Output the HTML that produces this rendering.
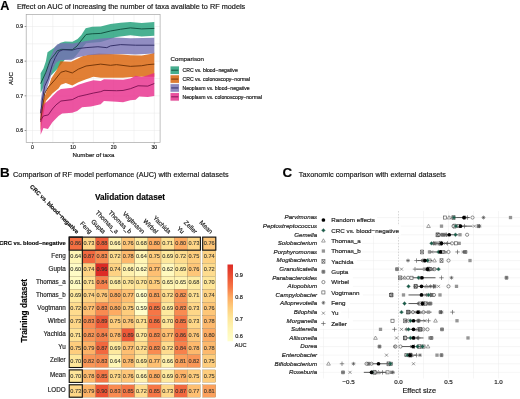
<!DOCTYPE html>
<html><head><meta charset="utf-8"><title>Figure</title>
<style>html,body{margin:0;padding:0;background:#fff}svg{display:block}</style></head>
<body>
<svg width="520" height="399" viewBox="0 0 520 399" font-family='"Liberation Sans", Arial, Helvetica, sans-serif'>
<rect width="520" height="399" fill="#fff"/>
<style>text{stroke:#222;stroke-width:0.18px;stroke-linejoin:round}</style>
<text transform="translate(0.3,9.85) scale(0.93,1)" font-size="13.7" font-weight="bold" fill="#000">A</text>
<text x="17.00" y="9.00" font-size="7.3" text-anchor="start" font-weight="normal" font-style="normal" fill="#111" >Effect on AUC of increasing the number of taxa available to RF models</text>
<g stroke="#e9e9e9" stroke-width="0.5">
<line x1="26.2" x2="160.1" y1="130.50" y2="130.50"/>
<line x1="26.2" x2="160.1" y1="113.16" y2="113.16"/>
<line x1="26.2" x2="160.1" y1="95.83" y2="95.83"/>
<line x1="26.2" x2="160.1" y1="78.50" y2="78.50"/>
<line x1="26.2" x2="160.1" y1="61.16" y2="61.16"/>
<line x1="26.2" x2="160.1" y1="43.83" y2="43.83"/>
<line x1="26.2" x2="160.1" y1="26.49" y2="26.49"/>
<line y1="14.6" y2="142.5" x1="32.50" x2="32.50"/>
<line y1="14.6" y2="142.5" x1="52.80" x2="52.80"/>
<line y1="14.6" y2="142.5" x1="73.10" x2="73.10"/>
<line y1="14.6" y2="142.5" x1="93.40" x2="93.40"/>
<line y1="14.6" y2="142.5" x1="113.70" x2="113.70"/>
<line y1="14.6" y2="142.5" x1="134.00" x2="134.00"/>
<line y1="14.6" y2="142.5" x1="154.30" x2="154.30"/>
</g>
<polygon points="40.62,73.29 43.46,68.44 45.90,61.16 47.52,52.15 52.39,49.03 56.25,46.25 60.51,42.78 64.98,41.40 72.49,41.74 77.57,38.97 81.22,35.16 85.69,28.22 92.18,26.84 100.71,26.49 110.45,24.06 120.60,22.68 130.35,22.12 141.71,23.02 154.30,22.12 154.30,35.85 141.71,36.54 130.35,35.16 116.54,37.06 110.45,38.97 100.71,42.09 86.09,43.13 81.22,49.03 77.16,54.23 73.10,58.39 64.98,59.43 56.86,69.48 48.74,77.80 44.68,84.74 40.62,93.06" fill="#1B9E77" fill-opacity="0.8"/>
<polygon points="40.62,109.70 43.46,99.30 49.15,84.74 51.18,78.50 56.86,69.83 58.89,64.97 60.51,61.16 64.98,61.51 71.07,61.85 77.57,58.73 82.44,56.31 87.31,54.92 92.18,54.23 99.08,53.53 110.45,53.88 123.04,54.57 130.35,55.27 141.71,55.44 150.24,53.88 154.30,52.84 154.30,76.76 135.62,76.76 123.04,77.80 100.71,77.80 93.40,76.76 86.09,79.19 78.38,82.31 72.29,85.43 65.79,83.00 60.92,84.74 58.48,88.55 52.39,93.40 45.90,101.03 40.62,130.50" fill="#D95F02" fill-opacity="0.8"/>
<polygon points="40.62,101.03 44.68,75.03 48.74,61.16 52.80,52.15 54.83,46.95 57.47,44.17 60.92,43.13 66.00,43.13 73.10,43.48 77.16,42.78 86.09,41.05 100.71,38.62 116.54,37.58 130.35,38.28 154.30,37.76 154.30,53.53 135.62,54.57 123.04,53.88 100.71,54.57 87.31,55.27 82.44,56.31 77.57,57.35 71.07,60.22 64.98,60.12 60.51,60.12 56.25,62.55 52.39,69.83 49.96,79.19 46.71,88.90 43.46,99.30 40.62,116.63" fill="#7570B3" fill-opacity="0.8"/>
<polygon points="40.62,109.70 43.87,104.15 48.74,99.99 52.80,95.83 57.27,91.32 60.92,88.90 72.29,87.86 78.38,84.74 86.09,82.31 93.40,80.23 100.71,80.92 103.96,79.19 123.04,79.74 130.35,78.50 135.62,75.72 141.71,77.11 147.80,75.37 154.30,72.95 154.30,96.00 147.80,97.01 139.28,96.52 135.62,99.64 130.35,100.34 123.04,102.24 116.54,101.72 103.96,101.03 100.71,104.15 90.96,106.58 82.03,107.27 77.16,111.08 72.29,112.82 62.14,113.51 58.48,115.94 52.39,122.18 47.93,129.11 43.46,127.90 40.62,134.66" fill="#E7298A" fill-opacity="0.8"/>
<polyline points="40.62,83.70 45.90,72.25 48.33,65.32 50.36,59.77 54.83,54.23 57.27,50.76 61.73,49.37 72.29,49.72 77.16,45.91 80.81,41.05 86.09,34.46 92.18,33.77 100.71,33.42 110.45,31.00 120.60,29.26 130.35,27.88 141.71,28.92 154.30,28.40" fill="none" stroke="#0d4a3a" stroke-width="0.9" stroke-linejoin="round"/>
<polyline points="40.62,120.10 44.68,93.40 48.33,87.16 54.83,79.88 60.92,72.25 65.79,70.87 72.29,72.95 78.38,69.13 86.09,66.01 100.71,64.11 110.45,65.32 116.54,64.63 130.35,66.36 141.71,65.74 147.80,64.63 154.30,64.11" fill="none" stroke="#6b2f05" stroke-width="0.9" stroke-linejoin="round"/>
<polyline points="40.62,113.16 42.24,101.03 44.68,86.12 48.33,78.50 52.39,64.63 55.24,57.69 58.89,51.45 62.95,49.72 72.29,50.07 77.16,48.68 86.09,47.64 97.87,46.74 106.80,47.64 110.45,45.91 120.60,44.62 135.62,45.21 154.30,45.21" fill="none" stroke="#2a2760" stroke-width="0.9" stroke-linejoin="round"/>
<polyline points="40.62,121.83 41.03,119.75 43.46,115.94 48.33,114.90 52.39,109.00 56.05,104.84 60.92,101.03 72.29,99.64 78.38,96.52 86.09,94.79 93.40,93.06 100.71,91.67 103.96,90.39 116.54,90.73 123.04,90.46 130.35,88.72 138.06,85.78 147.80,86.12 154.30,83.52" fill="none" stroke="#7a1050" stroke-width="0.9" stroke-linejoin="round"/>
<rect x="26.2" y="14.6" width="133.90" height="127.90" fill="none" stroke="#a6a6a6" stroke-width="0.7"/>
<g stroke="#333" stroke-width="0.5">
<line x1="24.599999999999998" x2="26.2" y1="130.50" y2="130.50"/>
<line x1="24.599999999999998" x2="26.2" y1="95.83" y2="95.83"/>
<line x1="24.599999999999998" x2="26.2" y1="61.16" y2="61.16"/>
<line x1="24.599999999999998" x2="26.2" y1="26.49" y2="26.49"/>
<line y1="142.5" y2="144.1" x1="32.50" x2="32.50"/>
<line y1="142.5" y2="144.1" x1="73.10" x2="73.10"/>
<line y1="142.5" y2="144.1" x1="113.70" x2="113.70"/>
<line y1="142.5" y2="144.1" x1="154.30" x2="154.30"/>
</g>
<text x="23.20" y="132.30" font-size="5.1" text-anchor="end" font-weight="normal" font-style="normal" fill="#222" >0.6</text>
<text x="23.20" y="97.63" font-size="5.1" text-anchor="end" font-weight="normal" font-style="normal" fill="#222" >0.7</text>
<text x="23.20" y="62.96" font-size="5.1" text-anchor="end" font-weight="normal" font-style="normal" fill="#222" >0.8</text>
<text x="23.20" y="28.29" font-size="5.1" text-anchor="end" font-weight="normal" font-style="normal" fill="#222" >0.9</text>
<text x="32.50" y="149.10" font-size="5.1" text-anchor="middle" font-weight="normal" font-style="normal" fill="#222" >0</text>
<text x="73.10" y="149.10" font-size="5.1" text-anchor="middle" font-weight="normal" font-style="normal" fill="#222" >10</text>
<text x="113.70" y="149.10" font-size="5.1" text-anchor="middle" font-weight="normal" font-style="normal" fill="#222" >20</text>
<text x="154.30" y="149.10" font-size="5.1" text-anchor="middle" font-weight="normal" font-style="normal" fill="#222" >30</text>
<text x="93.50" y="156.80" font-size="6.15" text-anchor="middle" font-weight="normal" font-style="normal" fill="#111" >Number of taxa</text>
<text transform="translate(13.2,78.5) rotate(-90)" font-size="6.15" text-anchor="middle" fill="#111">AUC</text>
<text x="170.50" y="61.40" font-size="6.2" text-anchor="start" font-weight="normal" font-style="normal" fill="#111" >Comparison</text>
<rect x="170.5" y="65.90" width="8.5" height="8.6" fill="#efefef"/>
<rect x="170.5" y="66.40" width="8.5" height="7.6" fill="#1B9E77" fill-opacity="0.8"/>
<line x1="171.2" x2="178.3" y1="70.20" y2="70.20" stroke="#0d4a3a" stroke-width="0.9"/>
<text x="182.50" y="72.05" font-size="5.12" text-anchor="start" font-weight="normal" font-style="normal" fill="#111" >CRC vs. blood−negative</text>
<rect x="170.5" y="74.78" width="8.5" height="8.6" fill="#efefef"/>
<rect x="170.5" y="75.28" width="8.5" height="7.6" fill="#D95F02" fill-opacity="0.8"/>
<line x1="171.2" x2="178.3" y1="79.08" y2="79.08" stroke="#6b2f05" stroke-width="0.9"/>
<text x="182.50" y="80.93" font-size="5.12" text-anchor="start" font-weight="normal" font-style="normal" fill="#111" >CRC vs. colonoscopy−normal</text>
<rect x="170.5" y="83.66" width="8.5" height="8.6" fill="#efefef"/>
<rect x="170.5" y="84.16" width="8.5" height="7.6" fill="#7570B3" fill-opacity="0.8"/>
<line x1="171.2" x2="178.3" y1="87.96" y2="87.96" stroke="#2a2760" stroke-width="0.9"/>
<text x="182.50" y="89.81" font-size="5.12" text-anchor="start" font-weight="normal" font-style="normal" fill="#111" >Neoplasm vs. blood−negative</text>
<rect x="170.5" y="92.54" width="8.5" height="8.6" fill="#efefef"/>
<rect x="170.5" y="93.04" width="8.5" height="7.6" fill="#E7298A" fill-opacity="0.8"/>
<line x1="171.2" x2="178.3" y1="96.84" y2="96.84" stroke="#7a1050" stroke-width="0.9"/>
<text x="182.50" y="98.69" font-size="5.12" text-anchor="start" font-weight="normal" font-style="normal" fill="#111" >Neoplasm vs. colonoscopy−normal</text>
<text x="0.00" y="177.00" font-size="13.4" text-anchor="start" font-weight="bold" font-style="normal" fill="#000" >B</text>
<text x="13.10" y="176.90" font-size="7.27" text-anchor="start" font-weight="normal" font-style="normal" fill="#111" >Comparison of RF model perfomance (AUC) with external datasets</text>
<text x="130.00" y="199.60" font-size="8.25" text-anchor="middle" font-weight="bold" font-style="normal" fill="#000" >Validation dataset</text>
<text transform="translate(27.1,310.8) rotate(-90)" font-size="8.3" font-weight="bold" text-anchor="middle" fill="#000">Training dataset</text>
<rect x="69.20" y="237.10" width="13.12" height="13.04" fill="#f46f42" stroke="#8a7a55" stroke-width="0.3"/>
<rect x="82.32" y="237.10" width="13.12" height="13.04" fill="#fed788" stroke="#8a7a55" stroke-width="0.3"/>
<rect x="95.44" y="237.10" width="13.12" height="13.04" fill="#f0603b" stroke="#8a7a55" stroke-width="0.3"/>
<rect x="108.56" y="237.10" width="13.12" height="13.04" fill="#fff1ad" stroke="#8a7a55" stroke-width="0.3"/>
<rect x="121.68" y="237.10" width="13.12" height="13.04" fill="#fec678" stroke="#8a7a55" stroke-width="0.3"/>
<rect x="134.80" y="237.10" width="13.12" height="13.04" fill="#feeca3" stroke="#8a7a55" stroke-width="0.3"/>
<rect x="147.92" y="237.10" width="13.12" height="13.04" fill="#fdab62" stroke="#8a7a55" stroke-width="0.3"/>
<rect x="161.04" y="237.10" width="13.12" height="13.04" fill="#fee193" stroke="#8a7a55" stroke-width="0.3"/>
<rect x="174.16" y="237.10" width="13.12" height="13.04" fill="#fdab62" stroke="#8a7a55" stroke-width="0.3"/>
<rect x="187.28" y="237.10" width="13.12" height="13.04" fill="#fed788" stroke="#8a7a55" stroke-width="0.3"/>
<rect x="202.70" y="237.10" width="13.12" height="13.04" fill="#fec678" stroke="#8a7a55" stroke-width="0.3"/>
<rect x="69.20" y="250.14" width="13.12" height="13.04" fill="#fff6b6" stroke="#8a7a55" stroke-width="0.3"/>
<rect x="82.32" y="250.14" width="13.12" height="13.04" fill="#f2683f" stroke="#8a7a55" stroke-width="0.3"/>
<rect x="95.44" y="250.14" width="13.12" height="13.04" fill="#f98b51" stroke="#8a7a55" stroke-width="0.3"/>
<rect x="108.56" y="250.14" width="13.12" height="13.04" fill="#fedc8e" stroke="#8a7a55" stroke-width="0.3"/>
<rect x="121.68" y="250.14" width="13.12" height="13.04" fill="#fdb96d" stroke="#8a7a55" stroke-width="0.3"/>
<rect x="134.80" y="250.14" width="13.12" height="13.04" fill="#fff6b6" stroke="#8a7a55" stroke-width="0.3"/>
<rect x="147.92" y="250.14" width="13.12" height="13.04" fill="#fecd7d" stroke="#8a7a55" stroke-width="0.3"/>
<rect x="161.04" y="250.14" width="13.12" height="13.04" fill="#fee99e" stroke="#8a7a55" stroke-width="0.3"/>
<rect x="174.16" y="250.14" width="13.12" height="13.04" fill="#fedc8e" stroke="#8a7a55" stroke-width="0.3"/>
<rect x="187.28" y="250.14" width="13.12" height="13.04" fill="#fecd7d" stroke="#8a7a55" stroke-width="0.3"/>
<rect x="202.70" y="250.14" width="13.12" height="13.04" fill="#fed283" stroke="#8a7a55" stroke-width="0.3"/>
<rect x="69.20" y="263.18" width="13.12" height="13.04" fill="#fffcc6" stroke="#8a7a55" stroke-width="0.3"/>
<rect x="82.32" y="263.18" width="13.12" height="13.04" fill="#fed283" stroke="#8a7a55" stroke-width="0.3"/>
<rect x="95.44" y="263.18" width="13.12" height="13.04" fill="#dd2a25" stroke="#8a7a55" stroke-width="0.3"/>
<rect x="108.56" y="263.18" width="13.12" height="13.04" fill="#fed283" stroke="#8a7a55" stroke-width="0.3"/>
<rect x="121.68" y="263.18" width="13.12" height="13.04" fill="#fff1ad" stroke="#8a7a55" stroke-width="0.3"/>
<rect x="134.80" y="263.18" width="13.12" height="13.04" fill="#fff9be" stroke="#8a7a55" stroke-width="0.3"/>
<rect x="147.92" y="263.18" width="13.12" height="13.04" fill="#febf72" stroke="#8a7a55" stroke-width="0.3"/>
<rect x="161.04" y="263.18" width="13.12" height="13.04" fill="#fff9be" stroke="#8a7a55" stroke-width="0.3"/>
<rect x="174.16" y="263.18" width="13.12" height="13.04" fill="#fee99e" stroke="#8a7a55" stroke-width="0.3"/>
<rect x="187.28" y="263.18" width="13.12" height="13.04" fill="#fec678" stroke="#8a7a55" stroke-width="0.3"/>
<rect x="202.70" y="263.18" width="13.12" height="13.04" fill="#fedc8e" stroke="#8a7a55" stroke-width="0.3"/>
<rect x="69.20" y="276.22" width="13.12" height="13.04" fill="#fffbc2" stroke="#8a7a55" stroke-width="0.3"/>
<rect x="82.32" y="276.22" width="13.12" height="13.04" fill="#fee193" stroke="#8a7a55" stroke-width="0.3"/>
<rect x="95.44" y="276.22" width="13.12" height="13.04" fill="#f7814c" stroke="#8a7a55" stroke-width="0.3"/>
<rect x="108.56" y="276.22" width="13.12" height="13.04" fill="#feeca3" stroke="#8a7a55" stroke-width="0.3"/>
<rect x="121.68" y="276.22" width="13.12" height="13.04" fill="#fee699" stroke="#8a7a55" stroke-width="0.3"/>
<rect x="134.80" y="276.22" width="13.12" height="13.04" fill="#fee699" stroke="#8a7a55" stroke-width="0.3"/>
<rect x="147.92" y="276.22" width="13.12" height="13.04" fill="#fecd7d" stroke="#8a7a55" stroke-width="0.3"/>
<rect x="161.04" y="276.22" width="13.12" height="13.04" fill="#fff4b2" stroke="#8a7a55" stroke-width="0.3"/>
<rect x="174.16" y="276.22" width="13.12" height="13.04" fill="#fff4b2" stroke="#8a7a55" stroke-width="0.3"/>
<rect x="187.28" y="276.22" width="13.12" height="13.04" fill="#feeca3" stroke="#8a7a55" stroke-width="0.3"/>
<rect x="202.70" y="276.22" width="13.12" height="13.04" fill="#fee699" stroke="#8a7a55" stroke-width="0.3"/>
<rect x="69.20" y="289.26" width="13.12" height="13.04" fill="#fee99e" stroke="#8a7a55" stroke-width="0.3"/>
<rect x="82.32" y="289.26" width="13.12" height="13.04" fill="#fed283" stroke="#8a7a55" stroke-width="0.3"/>
<rect x="95.44" y="289.26" width="13.12" height="13.04" fill="#fec678" stroke="#8a7a55" stroke-width="0.3"/>
<rect x="108.56" y="289.26" width="13.12" height="13.04" fill="#fdab62" stroke="#8a7a55" stroke-width="0.3"/>
<rect x="121.68" y="289.26" width="13.12" height="13.04" fill="#febf72" stroke="#8a7a55" stroke-width="0.3"/>
<rect x="134.80" y="289.26" width="13.12" height="13.04" fill="#fffcc6" stroke="#8a7a55" stroke-width="0.3"/>
<rect x="147.92" y="289.26" width="13.12" height="13.04" fill="#fca05c" stroke="#8a7a55" stroke-width="0.3"/>
<rect x="161.04" y="289.26" width="13.12" height="13.04" fill="#fedc8e" stroke="#8a7a55" stroke-width="0.3"/>
<rect x="174.16" y="289.26" width="13.12" height="13.04" fill="#fa9657" stroke="#8a7a55" stroke-width="0.3"/>
<rect x="187.28" y="289.26" width="13.12" height="13.04" fill="#fee193" stroke="#8a7a55" stroke-width="0.3"/>
<rect x="202.70" y="289.26" width="13.12" height="13.04" fill="#fed283" stroke="#8a7a55" stroke-width="0.3"/>
<rect x="69.20" y="302.30" width="13.12" height="13.04" fill="#fedc8e" stroke="#8a7a55" stroke-width="0.3"/>
<rect x="82.32" y="302.30" width="13.12" height="13.04" fill="#febf72" stroke="#8a7a55" stroke-width="0.3"/>
<rect x="95.44" y="302.30" width="13.12" height="13.04" fill="#f98b51" stroke="#8a7a55" stroke-width="0.3"/>
<rect x="108.56" y="302.30" width="13.12" height="13.04" fill="#fdab62" stroke="#8a7a55" stroke-width="0.3"/>
<rect x="121.68" y="302.30" width="13.12" height="13.04" fill="#fecd7d" stroke="#8a7a55" stroke-width="0.3"/>
<rect x="134.80" y="302.30" width="13.12" height="13.04" fill="#fffeca" stroke="#8a7a55" stroke-width="0.3"/>
<rect x="147.92" y="302.30" width="13.12" height="13.04" fill="#f67646" stroke="#8a7a55" stroke-width="0.3"/>
<rect x="161.04" y="302.30" width="13.12" height="13.04" fill="#fee99e" stroke="#8a7a55" stroke-width="0.3"/>
<rect x="174.16" y="302.30" width="13.12" height="13.04" fill="#f98b51" stroke="#8a7a55" stroke-width="0.3"/>
<rect x="187.28" y="302.30" width="13.12" height="13.04" fill="#fed788" stroke="#8a7a55" stroke-width="0.3"/>
<rect x="202.70" y="302.30" width="13.12" height="13.04" fill="#fec678" stroke="#8a7a55" stroke-width="0.3"/>
<rect x="69.20" y="315.34" width="13.12" height="13.04" fill="#fed788" stroke="#8a7a55" stroke-width="0.3"/>
<rect x="82.32" y="315.34" width="13.12" height="13.04" fill="#f98b51" stroke="#8a7a55" stroke-width="0.3"/>
<rect x="95.44" y="315.34" width="13.12" height="13.04" fill="#ee5938" stroke="#8a7a55" stroke-width="0.3"/>
<rect x="108.56" y="315.34" width="13.12" height="13.04" fill="#fecd7d" stroke="#8a7a55" stroke-width="0.3"/>
<rect x="121.68" y="315.34" width="13.12" height="13.04" fill="#fec678" stroke="#8a7a55" stroke-width="0.3"/>
<rect x="134.80" y="315.34" width="13.12" height="13.04" fill="#fee193" stroke="#8a7a55" stroke-width="0.3"/>
<rect x="147.92" y="315.34" width="13.12" height="13.04" fill="#f46f42" stroke="#8a7a55" stroke-width="0.3"/>
<rect x="161.04" y="315.34" width="13.12" height="13.04" fill="#fee699" stroke="#8a7a55" stroke-width="0.3"/>
<rect x="174.16" y="315.34" width="13.12" height="13.04" fill="#f67646" stroke="#8a7a55" stroke-width="0.3"/>
<rect x="187.28" y="315.34" width="13.12" height="13.04" fill="#fed788" stroke="#8a7a55" stroke-width="0.3"/>
<rect x="202.70" y="315.34" width="13.12" height="13.04" fill="#fdb96d" stroke="#8a7a55" stroke-width="0.3"/>
<rect x="69.20" y="328.38" width="13.12" height="13.04" fill="#fee193" stroke="#8a7a55" stroke-width="0.3"/>
<rect x="82.32" y="328.38" width="13.12" height="13.04" fill="#fa9657" stroke="#8a7a55" stroke-width="0.3"/>
<rect x="95.44" y="328.38" width="13.12" height="13.04" fill="#f7814c" stroke="#8a7a55" stroke-width="0.3"/>
<rect x="108.56" y="328.38" width="13.12" height="13.04" fill="#fdb96d" stroke="#8a7a55" stroke-width="0.3"/>
<rect x="121.68" y="328.38" width="13.12" height="13.04" fill="#ee5938" stroke="#8a7a55" stroke-width="0.3"/>
<rect x="134.80" y="328.38" width="13.12" height="13.04" fill="#fee699" stroke="#8a7a55" stroke-width="0.3"/>
<rect x="147.92" y="328.38" width="13.12" height="13.04" fill="#f98b51" stroke="#8a7a55" stroke-width="0.3"/>
<rect x="161.04" y="328.38" width="13.12" height="13.04" fill="#febf72" stroke="#8a7a55" stroke-width="0.3"/>
<rect x="174.16" y="328.38" width="13.12" height="13.04" fill="#f46f42" stroke="#8a7a55" stroke-width="0.3"/>
<rect x="187.28" y="328.38" width="13.12" height="13.04" fill="#fec678" stroke="#8a7a55" stroke-width="0.3"/>
<rect x="202.70" y="328.38" width="13.12" height="13.04" fill="#fdab62" stroke="#8a7a55" stroke-width="0.3"/>
<rect x="69.20" y="341.42" width="13.12" height="13.04" fill="#fecd7d" stroke="#8a7a55" stroke-width="0.3"/>
<rect x="82.32" y="341.42" width="13.12" height="13.04" fill="#fdb267" stroke="#8a7a55" stroke-width="0.3"/>
<rect x="95.44" y="341.42" width="13.12" height="13.04" fill="#f2683f" stroke="#8a7a55" stroke-width="0.3"/>
<rect x="108.56" y="341.42" width="13.12" height="13.04" fill="#fee99e" stroke="#8a7a55" stroke-width="0.3"/>
<rect x="121.68" y="341.42" width="13.12" height="13.04" fill="#febf72" stroke="#8a7a55" stroke-width="0.3"/>
<rect x="134.80" y="341.42" width="13.12" height="13.04" fill="#fedc8e" stroke="#8a7a55" stroke-width="0.3"/>
<rect x="147.92" y="341.42" width="13.12" height="13.04" fill="#f98b51" stroke="#8a7a55" stroke-width="0.3"/>
<rect x="161.04" y="341.42" width="13.12" height="13.04" fill="#fedc8e" stroke="#8a7a55" stroke-width="0.3"/>
<rect x="174.16" y="341.42" width="13.12" height="13.04" fill="#f7814c" stroke="#8a7a55" stroke-width="0.3"/>
<rect x="187.28" y="341.42" width="13.12" height="13.04" fill="#fdb96d" stroke="#8a7a55" stroke-width="0.3"/>
<rect x="202.70" y="341.42" width="13.12" height="13.04" fill="#fdb96d" stroke="#8a7a55" stroke-width="0.3"/>
<rect x="69.20" y="354.46" width="13.12" height="13.04" fill="#fee699" stroke="#8a7a55" stroke-width="0.3"/>
<rect x="82.32" y="354.46" width="13.12" height="13.04" fill="#fa9657" stroke="#8a7a55" stroke-width="0.3"/>
<rect x="95.44" y="354.46" width="13.12" height="13.04" fill="#f98b51" stroke="#8a7a55" stroke-width="0.3"/>
<rect x="108.56" y="354.46" width="13.12" height="13.04" fill="#fff6b6" stroke="#8a7a55" stroke-width="0.3"/>
<rect x="121.68" y="354.46" width="13.12" height="13.04" fill="#fdb96d" stroke="#8a7a55" stroke-width="0.3"/>
<rect x="134.80" y="354.46" width="13.12" height="13.04" fill="#fee99e" stroke="#8a7a55" stroke-width="0.3"/>
<rect x="147.92" y="354.46" width="13.12" height="13.04" fill="#febf72" stroke="#8a7a55" stroke-width="0.3"/>
<rect x="161.04" y="354.46" width="13.12" height="13.04" fill="#fff1ad" stroke="#8a7a55" stroke-width="0.3"/>
<rect x="174.16" y="354.46" width="13.12" height="13.04" fill="#fca05c" stroke="#8a7a55" stroke-width="0.3"/>
<rect x="187.28" y="354.46" width="13.12" height="13.04" fill="#fa9657" stroke="#8a7a55" stroke-width="0.3"/>
<rect x="202.70" y="354.46" width="13.12" height="13.04" fill="#fecd7d" stroke="#8a7a55" stroke-width="0.3"/>
<rect x="69.20" y="369.90" width="13.12" height="12.50" fill="#fee699" stroke="#8a7a55" stroke-width="0.3"/>
<rect x="82.32" y="369.90" width="13.12" height="12.50" fill="#fdb96d" stroke="#8a7a55" stroke-width="0.3"/>
<rect x="95.44" y="369.90" width="13.12" height="12.50" fill="#f67646" stroke="#8a7a55" stroke-width="0.3"/>
<rect x="108.56" y="369.90" width="13.12" height="12.50" fill="#fed788" stroke="#8a7a55" stroke-width="0.3"/>
<rect x="121.68" y="369.90" width="13.12" height="12.50" fill="#fec678" stroke="#8a7a55" stroke-width="0.3"/>
<rect x="134.80" y="369.90" width="13.12" height="12.50" fill="#fff1ad" stroke="#8a7a55" stroke-width="0.3"/>
<rect x="147.92" y="369.90" width="13.12" height="12.50" fill="#fdab62" stroke="#8a7a55" stroke-width="0.3"/>
<rect x="161.04" y="369.90" width="13.12" height="12.50" fill="#fee99e" stroke="#8a7a55" stroke-width="0.3"/>
<rect x="174.16" y="369.90" width="13.12" height="12.50" fill="#fdb267" stroke="#8a7a55" stroke-width="0.3"/>
<rect x="187.28" y="369.90" width="13.12" height="12.50" fill="#fecd7d" stroke="#8a7a55" stroke-width="0.3"/>
<rect x="202.70" y="369.90" width="13.12" height="12.50" fill="#fecd7d" stroke="#8a7a55" stroke-width="0.3"/>
<rect x="69.20" y="384.80" width="13.12" height="12.40" fill="#fed788" stroke="#8a7a55" stroke-width="0.3"/>
<rect x="82.32" y="384.80" width="13.12" height="12.40" fill="#fdb267" stroke="#8a7a55" stroke-width="0.3"/>
<rect x="95.44" y="384.80" width="13.12" height="12.40" fill="#ec5234" stroke="#8a7a55" stroke-width="0.3"/>
<rect x="108.56" y="384.80" width="13.12" height="12.40" fill="#f98b51" stroke="#8a7a55" stroke-width="0.3"/>
<rect x="121.68" y="384.80" width="13.12" height="12.40" fill="#f67646" stroke="#8a7a55" stroke-width="0.3"/>
<rect x="134.80" y="384.80" width="13.12" height="12.40" fill="#fedc8e" stroke="#8a7a55" stroke-width="0.3"/>
<rect x="147.92" y="384.80" width="13.12" height="12.40" fill="#f67646" stroke="#8a7a55" stroke-width="0.3"/>
<rect x="161.04" y="384.80" width="13.12" height="12.40" fill="#fed788" stroke="#8a7a55" stroke-width="0.3"/>
<rect x="174.16" y="384.80" width="13.12" height="12.40" fill="#f2683f" stroke="#8a7a55" stroke-width="0.3"/>
<rect x="187.28" y="384.80" width="13.12" height="12.40" fill="#febf72" stroke="#8a7a55" stroke-width="0.3"/>
<rect x="202.70" y="384.80" width="13.12" height="12.40" fill="#fca05c" stroke="#8a7a55" stroke-width="0.3"/>
<text x="75.76" y="245.22" font-size="5.6" text-anchor="middle" font-weight="normal" font-style="normal" fill="#3a3a30" style="stroke-width:0.08px">0.86</text>
<text x="88.88" y="245.22" font-size="5.6" text-anchor="middle" font-weight="normal" font-style="normal" fill="#3a3a30" style="stroke-width:0.08px">0.73</text>
<text x="102.00" y="245.22" font-size="5.6" text-anchor="middle" font-weight="normal" font-style="normal" fill="#3a3a30" style="stroke-width:0.08px">0.88</text>
<text x="115.12" y="245.22" font-size="5.6" text-anchor="middle" font-weight="normal" font-style="normal" fill="#3a3a30" style="stroke-width:0.08px">0.66</text>
<text x="128.24" y="245.22" font-size="5.6" text-anchor="middle" font-weight="normal" font-style="normal" fill="#3a3a30" style="stroke-width:0.08px">0.76</text>
<text x="141.36" y="245.22" font-size="5.6" text-anchor="middle" font-weight="normal" font-style="normal" fill="#3a3a30" style="stroke-width:0.08px">0.68</text>
<text x="154.48" y="245.22" font-size="5.6" text-anchor="middle" font-weight="normal" font-style="normal" fill="#3a3a30" style="stroke-width:0.08px">0.80</text>
<text x="167.60" y="245.22" font-size="5.6" text-anchor="middle" font-weight="normal" font-style="normal" fill="#3a3a30" style="stroke-width:0.08px">0.71</text>
<text x="180.72" y="245.22" font-size="5.6" text-anchor="middle" font-weight="normal" font-style="normal" fill="#3a3a30" style="stroke-width:0.08px">0.80</text>
<text x="193.84" y="245.22" font-size="5.6" text-anchor="middle" font-weight="normal" font-style="normal" fill="#3a3a30" style="stroke-width:0.08px">0.73</text>
<text x="209.26" y="245.22" font-size="5.6" text-anchor="middle" font-weight="normal" font-style="normal" fill="#3a3a30" style="stroke-width:0.08px">0.76</text>
<text x="75.76" y="258.26" font-size="5.6" text-anchor="middle" font-weight="normal" font-style="normal" fill="#3a3a30" style="stroke-width:0.08px">0.64</text>
<text x="88.88" y="258.26" font-size="5.6" text-anchor="middle" font-weight="normal" font-style="normal" fill="#3a3a30" style="stroke-width:0.08px">0.87</text>
<text x="102.00" y="258.26" font-size="5.6" text-anchor="middle" font-weight="normal" font-style="normal" fill="#3a3a30" style="stroke-width:0.08px">0.83</text>
<text x="115.12" y="258.26" font-size="5.6" text-anchor="middle" font-weight="normal" font-style="normal" fill="#3a3a30" style="stroke-width:0.08px">0.72</text>
<text x="128.24" y="258.26" font-size="5.6" text-anchor="middle" font-weight="normal" font-style="normal" fill="#3a3a30" style="stroke-width:0.08px">0.78</text>
<text x="141.36" y="258.26" font-size="5.6" text-anchor="middle" font-weight="normal" font-style="normal" fill="#3a3a30" style="stroke-width:0.08px">0.64</text>
<text x="154.48" y="258.26" font-size="5.6" text-anchor="middle" font-weight="normal" font-style="normal" fill="#3a3a30" style="stroke-width:0.08px">0.75</text>
<text x="167.60" y="258.26" font-size="5.6" text-anchor="middle" font-weight="normal" font-style="normal" fill="#3a3a30" style="stroke-width:0.08px">0.69</text>
<text x="180.72" y="258.26" font-size="5.6" text-anchor="middle" font-weight="normal" font-style="normal" fill="#3a3a30" style="stroke-width:0.08px">0.72</text>
<text x="193.84" y="258.26" font-size="5.6" text-anchor="middle" font-weight="normal" font-style="normal" fill="#3a3a30" style="stroke-width:0.08px">0.75</text>
<text x="209.26" y="258.26" font-size="5.6" text-anchor="middle" font-weight="normal" font-style="normal" fill="#3a3a30" style="stroke-width:0.08px">0.74</text>
<text x="75.76" y="271.30" font-size="5.6" text-anchor="middle" font-weight="normal" font-style="normal" fill="#3a3a30" style="stroke-width:0.08px">0.60</text>
<text x="88.88" y="271.30" font-size="5.6" text-anchor="middle" font-weight="normal" font-style="normal" fill="#3a3a30" style="stroke-width:0.08px">0.74</text>
<text x="102.00" y="271.30" font-size="5.6" text-anchor="middle" font-weight="normal" font-style="normal" fill="#3a3a30" style="stroke-width:0.08px">0.96</text>
<text x="115.12" y="271.30" font-size="5.6" text-anchor="middle" font-weight="normal" font-style="normal" fill="#3a3a30" style="stroke-width:0.08px">0.74</text>
<text x="128.24" y="271.30" font-size="5.6" text-anchor="middle" font-weight="normal" font-style="normal" fill="#3a3a30" style="stroke-width:0.08px">0.66</text>
<text x="141.36" y="271.30" font-size="5.6" text-anchor="middle" font-weight="normal" font-style="normal" fill="#3a3a30" style="stroke-width:0.08px">0.62</text>
<text x="154.48" y="271.30" font-size="5.6" text-anchor="middle" font-weight="normal" font-style="normal" fill="#3a3a30" style="stroke-width:0.08px">0.77</text>
<text x="167.60" y="271.30" font-size="5.6" text-anchor="middle" font-weight="normal" font-style="normal" fill="#3a3a30" style="stroke-width:0.08px">0.62</text>
<text x="180.72" y="271.30" font-size="5.6" text-anchor="middle" font-weight="normal" font-style="normal" fill="#3a3a30" style="stroke-width:0.08px">0.69</text>
<text x="193.84" y="271.30" font-size="5.6" text-anchor="middle" font-weight="normal" font-style="normal" fill="#3a3a30" style="stroke-width:0.08px">0.76</text>
<text x="209.26" y="271.30" font-size="5.6" text-anchor="middle" font-weight="normal" font-style="normal" fill="#3a3a30" style="stroke-width:0.08px">0.72</text>
<text x="75.76" y="284.34" font-size="5.6" text-anchor="middle" font-weight="normal" font-style="normal" fill="#3a3a30" style="stroke-width:0.08px">0.61</text>
<text x="88.88" y="284.34" font-size="5.6" text-anchor="middle" font-weight="normal" font-style="normal" fill="#3a3a30" style="stroke-width:0.08px">0.71</text>
<text x="102.00" y="284.34" font-size="5.6" text-anchor="middle" font-weight="normal" font-style="normal" fill="#3a3a30" style="stroke-width:0.08px">0.84</text>
<text x="115.12" y="284.34" font-size="5.6" text-anchor="middle" font-weight="normal" font-style="normal" fill="#3a3a30" style="stroke-width:0.08px">0.68</text>
<text x="128.24" y="284.34" font-size="5.6" text-anchor="middle" font-weight="normal" font-style="normal" fill="#3a3a30" style="stroke-width:0.08px">0.70</text>
<text x="141.36" y="284.34" font-size="5.6" text-anchor="middle" font-weight="normal" font-style="normal" fill="#3a3a30" style="stroke-width:0.08px">0.70</text>
<text x="154.48" y="284.34" font-size="5.6" text-anchor="middle" font-weight="normal" font-style="normal" fill="#3a3a30" style="stroke-width:0.08px">0.75</text>
<text x="167.60" y="284.34" font-size="5.6" text-anchor="middle" font-weight="normal" font-style="normal" fill="#3a3a30" style="stroke-width:0.08px">0.65</text>
<text x="180.72" y="284.34" font-size="5.6" text-anchor="middle" font-weight="normal" font-style="normal" fill="#3a3a30" style="stroke-width:0.08px">0.65</text>
<text x="193.84" y="284.34" font-size="5.6" text-anchor="middle" font-weight="normal" font-style="normal" fill="#3a3a30" style="stroke-width:0.08px">0.68</text>
<text x="209.26" y="284.34" font-size="5.6" text-anchor="middle" font-weight="normal" font-style="normal" fill="#3a3a30" style="stroke-width:0.08px">0.70</text>
<text x="75.76" y="297.38" font-size="5.6" text-anchor="middle" font-weight="normal" font-style="normal" fill="#3a3a30" style="stroke-width:0.08px">0.69</text>
<text x="88.88" y="297.38" font-size="5.6" text-anchor="middle" font-weight="normal" font-style="normal" fill="#3a3a30" style="stroke-width:0.08px">0.74</text>
<text x="102.00" y="297.38" font-size="5.6" text-anchor="middle" font-weight="normal" font-style="normal" fill="#3a3a30" style="stroke-width:0.08px">0.76</text>
<text x="115.12" y="297.38" font-size="5.6" text-anchor="middle" font-weight="normal" font-style="normal" fill="#3a3a30" style="stroke-width:0.08px">0.80</text>
<text x="128.24" y="297.38" font-size="5.6" text-anchor="middle" font-weight="normal" font-style="normal" fill="#3a3a30" style="stroke-width:0.08px">0.77</text>
<text x="141.36" y="297.38" font-size="5.6" text-anchor="middle" font-weight="normal" font-style="normal" fill="#3a3a30" style="stroke-width:0.08px">0.60</text>
<text x="154.48" y="297.38" font-size="5.6" text-anchor="middle" font-weight="normal" font-style="normal" fill="#3a3a30" style="stroke-width:0.08px">0.81</text>
<text x="167.60" y="297.38" font-size="5.6" text-anchor="middle" font-weight="normal" font-style="normal" fill="#3a3a30" style="stroke-width:0.08px">0.72</text>
<text x="180.72" y="297.38" font-size="5.6" text-anchor="middle" font-weight="normal" font-style="normal" fill="#3a3a30" style="stroke-width:0.08px">0.82</text>
<text x="193.84" y="297.38" font-size="5.6" text-anchor="middle" font-weight="normal" font-style="normal" fill="#3a3a30" style="stroke-width:0.08px">0.71</text>
<text x="209.26" y="297.38" font-size="5.6" text-anchor="middle" font-weight="normal" font-style="normal" fill="#3a3a30" style="stroke-width:0.08px">0.74</text>
<text x="75.76" y="310.42" font-size="5.6" text-anchor="middle" font-weight="normal" font-style="normal" fill="#3a3a30" style="stroke-width:0.08px">0.72</text>
<text x="88.88" y="310.42" font-size="5.6" text-anchor="middle" font-weight="normal" font-style="normal" fill="#3a3a30" style="stroke-width:0.08px">0.77</text>
<text x="102.00" y="310.42" font-size="5.6" text-anchor="middle" font-weight="normal" font-style="normal" fill="#3a3a30" style="stroke-width:0.08px">0.83</text>
<text x="115.12" y="310.42" font-size="5.6" text-anchor="middle" font-weight="normal" font-style="normal" fill="#3a3a30" style="stroke-width:0.08px">0.80</text>
<text x="128.24" y="310.42" font-size="5.6" text-anchor="middle" font-weight="normal" font-style="normal" fill="#3a3a30" style="stroke-width:0.08px">0.75</text>
<text x="141.36" y="310.42" font-size="5.6" text-anchor="middle" font-weight="normal" font-style="normal" fill="#3a3a30" style="stroke-width:0.08px">0.59</text>
<text x="154.48" y="310.42" font-size="5.6" text-anchor="middle" font-weight="normal" font-style="normal" fill="#3a3a30" style="stroke-width:0.08px">0.85</text>
<text x="167.60" y="310.42" font-size="5.6" text-anchor="middle" font-weight="normal" font-style="normal" fill="#3a3a30" style="stroke-width:0.08px">0.69</text>
<text x="180.72" y="310.42" font-size="5.6" text-anchor="middle" font-weight="normal" font-style="normal" fill="#3a3a30" style="stroke-width:0.08px">0.83</text>
<text x="193.84" y="310.42" font-size="5.6" text-anchor="middle" font-weight="normal" font-style="normal" fill="#3a3a30" style="stroke-width:0.08px">0.73</text>
<text x="209.26" y="310.42" font-size="5.6" text-anchor="middle" font-weight="normal" font-style="normal" fill="#3a3a30" style="stroke-width:0.08px">0.76</text>
<text x="75.76" y="323.46" font-size="5.6" text-anchor="middle" font-weight="normal" font-style="normal" fill="#3a3a30" style="stroke-width:0.08px">0.73</text>
<text x="88.88" y="323.46" font-size="5.6" text-anchor="middle" font-weight="normal" font-style="normal" fill="#3a3a30" style="stroke-width:0.08px">0.83</text>
<text x="102.00" y="323.46" font-size="5.6" text-anchor="middle" font-weight="normal" font-style="normal" fill="#3a3a30" style="stroke-width:0.08px">0.89</text>
<text x="115.12" y="323.46" font-size="5.6" text-anchor="middle" font-weight="normal" font-style="normal" fill="#3a3a30" style="stroke-width:0.08px">0.75</text>
<text x="128.24" y="323.46" font-size="5.6" text-anchor="middle" font-weight="normal" font-style="normal" fill="#3a3a30" style="stroke-width:0.08px">0.76</text>
<text x="141.36" y="323.46" font-size="5.6" text-anchor="middle" font-weight="normal" font-style="normal" fill="#3a3a30" style="stroke-width:0.08px">0.71</text>
<text x="154.48" y="323.46" font-size="5.6" text-anchor="middle" font-weight="normal" font-style="normal" fill="#3a3a30" style="stroke-width:0.08px">0.86</text>
<text x="167.60" y="323.46" font-size="5.6" text-anchor="middle" font-weight="normal" font-style="normal" fill="#3a3a30" style="stroke-width:0.08px">0.70</text>
<text x="180.72" y="323.46" font-size="5.6" text-anchor="middle" font-weight="normal" font-style="normal" fill="#3a3a30" style="stroke-width:0.08px">0.85</text>
<text x="193.84" y="323.46" font-size="5.6" text-anchor="middle" font-weight="normal" font-style="normal" fill="#3a3a30" style="stroke-width:0.08px">0.73</text>
<text x="209.26" y="323.46" font-size="5.6" text-anchor="middle" font-weight="normal" font-style="normal" fill="#3a3a30" style="stroke-width:0.08px">0.78</text>
<text x="75.76" y="336.50" font-size="5.6" text-anchor="middle" font-weight="normal" font-style="normal" fill="#3a3a30" style="stroke-width:0.08px">0.71</text>
<text x="88.88" y="336.50" font-size="5.6" text-anchor="middle" font-weight="normal" font-style="normal" fill="#3a3a30" style="stroke-width:0.08px">0.82</text>
<text x="102.00" y="336.50" font-size="5.6" text-anchor="middle" font-weight="normal" font-style="normal" fill="#3a3a30" style="stroke-width:0.08px">0.84</text>
<text x="115.12" y="336.50" font-size="5.6" text-anchor="middle" font-weight="normal" font-style="normal" fill="#3a3a30" style="stroke-width:0.08px">0.78</text>
<text x="128.24" y="336.50" font-size="5.6" text-anchor="middle" font-weight="normal" font-style="normal" fill="#3a3a30" style="stroke-width:0.08px">0.89</text>
<text x="141.36" y="336.50" font-size="5.6" text-anchor="middle" font-weight="normal" font-style="normal" fill="#3a3a30" style="stroke-width:0.08px">0.70</text>
<text x="154.48" y="336.50" font-size="5.6" text-anchor="middle" font-weight="normal" font-style="normal" fill="#3a3a30" style="stroke-width:0.08px">0.83</text>
<text x="167.60" y="336.50" font-size="5.6" text-anchor="middle" font-weight="normal" font-style="normal" fill="#3a3a30" style="stroke-width:0.08px">0.77</text>
<text x="180.72" y="336.50" font-size="5.6" text-anchor="middle" font-weight="normal" font-style="normal" fill="#3a3a30" style="stroke-width:0.08px">0.86</text>
<text x="193.84" y="336.50" font-size="5.6" text-anchor="middle" font-weight="normal" font-style="normal" fill="#3a3a30" style="stroke-width:0.08px">0.76</text>
<text x="209.26" y="336.50" font-size="5.6" text-anchor="middle" font-weight="normal" font-style="normal" fill="#3a3a30" style="stroke-width:0.08px">0.80</text>
<text x="75.76" y="349.54" font-size="5.6" text-anchor="middle" font-weight="normal" font-style="normal" fill="#3a3a30" style="stroke-width:0.08px">0.75</text>
<text x="88.88" y="349.54" font-size="5.6" text-anchor="middle" font-weight="normal" font-style="normal" fill="#3a3a30" style="stroke-width:0.08px">0.79</text>
<text x="102.00" y="349.54" font-size="5.6" text-anchor="middle" font-weight="normal" font-style="normal" fill="#3a3a30" style="stroke-width:0.08px">0.87</text>
<text x="115.12" y="349.54" font-size="5.6" text-anchor="middle" font-weight="normal" font-style="normal" fill="#3a3a30" style="stroke-width:0.08px">0.69</text>
<text x="128.24" y="349.54" font-size="5.6" text-anchor="middle" font-weight="normal" font-style="normal" fill="#3a3a30" style="stroke-width:0.08px">0.77</text>
<text x="141.36" y="349.54" font-size="5.6" text-anchor="middle" font-weight="normal" font-style="normal" fill="#3a3a30" style="stroke-width:0.08px">0.72</text>
<text x="154.48" y="349.54" font-size="5.6" text-anchor="middle" font-weight="normal" font-style="normal" fill="#3a3a30" style="stroke-width:0.08px">0.83</text>
<text x="167.60" y="349.54" font-size="5.6" text-anchor="middle" font-weight="normal" font-style="normal" fill="#3a3a30" style="stroke-width:0.08px">0.72</text>
<text x="180.72" y="349.54" font-size="5.6" text-anchor="middle" font-weight="normal" font-style="normal" fill="#3a3a30" style="stroke-width:0.08px">0.84</text>
<text x="193.84" y="349.54" font-size="5.6" text-anchor="middle" font-weight="normal" font-style="normal" fill="#3a3a30" style="stroke-width:0.08px">0.78</text>
<text x="209.26" y="349.54" font-size="5.6" text-anchor="middle" font-weight="normal" font-style="normal" fill="#3a3a30" style="stroke-width:0.08px">0.78</text>
<text x="75.76" y="362.58" font-size="5.6" text-anchor="middle" font-weight="normal" font-style="normal" fill="#3a3a30" style="stroke-width:0.08px">0.70</text>
<text x="88.88" y="362.58" font-size="5.6" text-anchor="middle" font-weight="normal" font-style="normal" fill="#3a3a30" style="stroke-width:0.08px">0.82</text>
<text x="102.00" y="362.58" font-size="5.6" text-anchor="middle" font-weight="normal" font-style="normal" fill="#3a3a30" style="stroke-width:0.08px">0.83</text>
<text x="115.12" y="362.58" font-size="5.6" text-anchor="middle" font-weight="normal" font-style="normal" fill="#3a3a30" style="stroke-width:0.08px">0.64</text>
<text x="128.24" y="362.58" font-size="5.6" text-anchor="middle" font-weight="normal" font-style="normal" fill="#3a3a30" style="stroke-width:0.08px">0.78</text>
<text x="141.36" y="362.58" font-size="5.6" text-anchor="middle" font-weight="normal" font-style="normal" fill="#3a3a30" style="stroke-width:0.08px">0.69</text>
<text x="154.48" y="362.58" font-size="5.6" text-anchor="middle" font-weight="normal" font-style="normal" fill="#3a3a30" style="stroke-width:0.08px">0.77</text>
<text x="167.60" y="362.58" font-size="5.6" text-anchor="middle" font-weight="normal" font-style="normal" fill="#3a3a30" style="stroke-width:0.08px">0.66</text>
<text x="180.72" y="362.58" font-size="5.6" text-anchor="middle" font-weight="normal" font-style="normal" fill="#3a3a30" style="stroke-width:0.08px">0.81</text>
<text x="193.84" y="362.58" font-size="5.6" text-anchor="middle" font-weight="normal" font-style="normal" fill="#3a3a30" style="stroke-width:0.08px">0.82</text>
<text x="209.26" y="362.58" font-size="5.6" text-anchor="middle" font-weight="normal" font-style="normal" fill="#3a3a30" style="stroke-width:0.08px">0.75</text>
<text x="75.76" y="377.75" font-size="5.6" text-anchor="middle" font-weight="normal" font-style="normal" fill="#3a3a30" style="stroke-width:0.08px">0.70</text>
<text x="88.88" y="377.75" font-size="5.6" text-anchor="middle" font-weight="normal" font-style="normal" fill="#3a3a30" style="stroke-width:0.08px">0.78</text>
<text x="102.00" y="377.75" font-size="5.6" text-anchor="middle" font-weight="normal" font-style="normal" fill="#3a3a30" style="stroke-width:0.08px">0.85</text>
<text x="115.12" y="377.75" font-size="5.6" text-anchor="middle" font-weight="normal" font-style="normal" fill="#3a3a30" style="stroke-width:0.08px">0.73</text>
<text x="128.24" y="377.75" font-size="5.6" text-anchor="middle" font-weight="normal" font-style="normal" fill="#3a3a30" style="stroke-width:0.08px">0.76</text>
<text x="141.36" y="377.75" font-size="5.6" text-anchor="middle" font-weight="normal" font-style="normal" fill="#3a3a30" style="stroke-width:0.08px">0.66</text>
<text x="154.48" y="377.75" font-size="5.6" text-anchor="middle" font-weight="normal" font-style="normal" fill="#3a3a30" style="stroke-width:0.08px">0.80</text>
<text x="167.60" y="377.75" font-size="5.6" text-anchor="middle" font-weight="normal" font-style="normal" fill="#3a3a30" style="stroke-width:0.08px">0.69</text>
<text x="180.72" y="377.75" font-size="5.6" text-anchor="middle" font-weight="normal" font-style="normal" fill="#3a3a30" style="stroke-width:0.08px">0.79</text>
<text x="193.84" y="377.75" font-size="5.6" text-anchor="middle" font-weight="normal" font-style="normal" fill="#3a3a30" style="stroke-width:0.08px">0.75</text>
<text x="209.26" y="377.75" font-size="5.6" text-anchor="middle" font-weight="normal" font-style="normal" fill="#3a3a30" style="stroke-width:0.08px">0.75</text>
<text x="75.76" y="392.60" font-size="5.6" text-anchor="middle" font-weight="normal" font-style="normal" fill="#3a3a30" style="stroke-width:0.08px">0.73</text>
<text x="88.88" y="392.60" font-size="5.6" text-anchor="middle" font-weight="normal" font-style="normal" fill="#3a3a30" style="stroke-width:0.08px">0.79</text>
<text x="102.00" y="392.60" font-size="5.6" text-anchor="middle" font-weight="normal" font-style="normal" fill="#3a3a30" style="stroke-width:0.08px">0.90</text>
<text x="115.12" y="392.60" font-size="5.6" text-anchor="middle" font-weight="normal" font-style="normal" fill="#3a3a30" style="stroke-width:0.08px">0.83</text>
<text x="128.24" y="392.60" font-size="5.6" text-anchor="middle" font-weight="normal" font-style="normal" fill="#3a3a30" style="stroke-width:0.08px">0.85</text>
<text x="141.36" y="392.60" font-size="5.6" text-anchor="middle" font-weight="normal" font-style="normal" fill="#3a3a30" style="stroke-width:0.08px">0.72</text>
<text x="154.48" y="392.60" font-size="5.6" text-anchor="middle" font-weight="normal" font-style="normal" fill="#3a3a30" style="stroke-width:0.08px">0.85</text>
<text x="167.60" y="392.60" font-size="5.6" text-anchor="middle" font-weight="normal" font-style="normal" fill="#3a3a30" style="stroke-width:0.08px">0.73</text>
<text x="180.72" y="392.60" font-size="5.6" text-anchor="middle" font-weight="normal" font-style="normal" fill="#3a3a30" style="stroke-width:0.08px">0.87</text>
<text x="193.84" y="392.60" font-size="5.6" text-anchor="middle" font-weight="normal" font-style="normal" fill="#3a3a30" style="stroke-width:0.08px">0.77</text>
<text x="209.26" y="392.60" font-size="5.6" text-anchor="middle" font-weight="normal" font-style="normal" fill="#3a3a30" style="stroke-width:0.08px">0.81</text>
<rect x="69.20" y="237.10" width="131.20" height="13.04" fill="none" stroke="#111" stroke-width="1.1"/>
<rect x="69.20" y="237.10" width="13.12" height="130.40" fill="none" stroke="#111" stroke-width="1.1"/>
<rect x="202.70" y="237.10" width="13.12" height="13.04" fill="none" stroke="#111" stroke-width="1.1"/>
<rect x="69.20" y="369.90" width="13.12" height="12.50" fill="none" stroke="#111" stroke-width="1.1"/>
<rect x="69.20" y="384.80" width="13.12" height="12.40" fill="none" stroke="#111" stroke-width="1.1"/>
<text x="65.80" y="244.92" font-size="5.8" text-anchor="end" font-weight="bold" font-style="normal" fill="#000" >CRC vs. blood−negative</text>
<text x="65.70" y="257.86" font-size="6.3" text-anchor="end" font-weight="normal" font-style="normal" fill="#2a2a2a" >Feng</text>
<text x="65.70" y="270.90" font-size="6.3" text-anchor="end" font-weight="normal" font-style="normal" fill="#2a2a2a" >Gupta</text>
<text x="65.70" y="283.94" font-size="6.3" text-anchor="end" font-weight="normal" font-style="normal" fill="#2a2a2a" >Thomas_a</text>
<text x="65.70" y="296.98" font-size="6.3" text-anchor="end" font-weight="normal" font-style="normal" fill="#2a2a2a" >Thomas_b</text>
<text x="65.70" y="310.02" font-size="6.3" text-anchor="end" font-weight="normal" font-style="normal" fill="#2a2a2a" >Vogtmann</text>
<text x="65.70" y="323.06" font-size="6.3" text-anchor="end" font-weight="normal" font-style="normal" fill="#2a2a2a" >Wirbel</text>
<text x="65.70" y="336.10" font-size="6.3" text-anchor="end" font-weight="normal" font-style="normal" fill="#2a2a2a" >Yachida</text>
<text x="65.70" y="349.14" font-size="6.3" text-anchor="end" font-weight="normal" font-style="normal" fill="#2a2a2a" >Yu</text>
<text x="65.70" y="362.18" font-size="6.3" text-anchor="end" font-weight="normal" font-style="normal" fill="#2a2a2a" >Zeller</text>
<text x="65.70" y="377.35" font-size="6.3" text-anchor="end" font-weight="normal" font-style="normal" fill="#2a2a2a" >Mean</text>
<text x="65.70" y="392.20" font-size="6.3" text-anchor="end" font-weight="normal" font-style="normal" fill="#2a2a2a" >LODO</text>
<text transform="translate(76.66,234.10) rotate(45)" font-size="5.8" font-weight="bold" text-anchor="end" fill="#000">CRC vs. blood−negative</text>
<text transform="translate(89.78,234.10) rotate(45)" font-size="6.3" text-anchor="end" fill="#222">Feng</text>
<text transform="translate(102.90,234.10) rotate(45)" font-size="6.3" text-anchor="end" fill="#222">Gupta</text>
<text transform="translate(116.02,234.10) rotate(45)" font-size="6.3" text-anchor="end" fill="#222">Thomas_a</text>
<text transform="translate(129.14,234.10) rotate(45)" font-size="6.3" text-anchor="end" fill="#222">Thomas_b</text>
<text transform="translate(142.26,234.10) rotate(45)" font-size="6.3" text-anchor="end" fill="#222">Vogtmann</text>
<text transform="translate(155.38,234.10) rotate(45)" font-size="6.3" text-anchor="end" fill="#222">Wirbel</text>
<text transform="translate(168.50,234.10) rotate(45)" font-size="6.3" text-anchor="end" fill="#222">Yachida</text>
<text transform="translate(181.62,234.10) rotate(45)" font-size="6.3" text-anchor="end" fill="#222">Yu</text>
<text transform="translate(194.74,234.10) rotate(45)" font-size="6.3" text-anchor="end" fill="#222">Zeller</text>
<text transform="translate(210.16,234.10) rotate(45)" font-size="6.3" text-anchor="end" fill="#222">Mean</text>
<defs><linearGradient id="cb" x1="0" y1="1" x2="0" y2="0">
<stop offset="0.000" stop-color="rgb(255, 255, 204)"/>
<stop offset="0.173" stop-color="rgb(255, 244, 178)"/>
<stop offset="0.307" stop-color="rgb(254, 230, 153)"/>
<stop offset="0.440" stop-color="rgb(254, 205, 125)"/>
<stop offset="0.573" stop-color="rgb(253, 171, 98)"/>
<stop offset="0.707" stop-color="rgb(246, 118, 70)"/>
<stop offset="0.840" stop-color="rgb(236, 82, 52)"/>
<stop offset="1.000" stop-color="rgb(221, 42, 37)"/>
</linearGradient></defs>
<rect x="227.5" y="264.5" width="5.5" height="76.8" fill="url(#cb)"/>
<text x="235.20" y="276.50" font-size="5.6" text-anchor="start" font-weight="normal" font-style="normal" fill="#222" >0.9</text>
<text x="235.20" y="299.00" font-size="5.6" text-anchor="start" font-weight="normal" font-style="normal" fill="#222" >0.8</text>
<text x="235.20" y="320.80" font-size="5.6" text-anchor="start" font-weight="normal" font-style="normal" fill="#222" >0.7</text>
<text x="235.20" y="338.20" font-size="5.6" text-anchor="start" font-weight="normal" font-style="normal" fill="#222" >0.6</text>
<text x="234.80" y="346.60" font-size="5.6" text-anchor="start" font-weight="normal" font-style="normal" fill="#222" >AUC</text>
<text x="282.50" y="177.00" font-size="13.4" text-anchor="start" font-weight="bold" font-style="normal" fill="#000" >C</text>
<text x="298.80" y="176.90" font-size="7.3" text-anchor="start" font-weight="normal" font-style="normal" fill="#111" >Taxonomic comparison with external datasets</text>
<g stroke="#ececec" stroke-width="0.5">
<line x1="319.5" x2="520" y1="217.55" y2="217.55"/>
<line x1="319.5" x2="520" y1="226.15" y2="226.15"/>
<line x1="319.5" x2="520" y1="234.75" y2="234.75"/>
<line x1="319.5" x2="520" y1="243.35" y2="243.35"/>
<line x1="319.5" x2="520" y1="251.95" y2="251.95"/>
<line x1="319.5" x2="520" y1="260.55" y2="260.55"/>
<line x1="319.5" x2="520" y1="269.15" y2="269.15"/>
<line x1="319.5" x2="520" y1="277.75" y2="277.75"/>
<line x1="319.5" x2="520" y1="286.35" y2="286.35"/>
<line x1="319.5" x2="520" y1="294.95" y2="294.95"/>
<line x1="319.5" x2="520" y1="303.55" y2="303.55"/>
<line x1="319.5" x2="520" y1="312.15" y2="312.15"/>
<line x1="319.5" x2="520" y1="320.75" y2="320.75"/>
<line x1="319.5" x2="520" y1="329.35" y2="329.35"/>
<line x1="319.5" x2="520" y1="337.95" y2="337.95"/>
<line x1="319.5" x2="520" y1="346.55" y2="346.55"/>
<line x1="319.5" x2="520" y1="355.15" y2="355.15"/>
<line x1="319.5" x2="520" y1="363.75" y2="363.75"/>
<line x1="319.5" x2="520" y1="372.35" y2="372.35"/>
<line x1="323.50" x2="323.50" y1="211" y2="378.5"/>
<line x1="348.50" x2="348.50" y1="211" y2="378.5"/>
<line x1="373.50" x2="373.50" y1="211" y2="378.5"/>
<line x1="423.50" x2="423.50" y1="211" y2="378.5"/>
<line x1="448.50" x2="448.50" y1="211" y2="378.5"/>
<line x1="473.50" x2="473.50" y1="211" y2="378.5"/>
<line x1="498.50" x2="498.50" y1="211" y2="378.5"/>
</g>
<line x1="398.50" x2="398.50" y1="211" y2="378.5" stroke="#bdbdbd" stroke-width="0.6" stroke-dasharray="1.6,1.3"/>
<text x="317.20" y="219.45" font-size="6.2" text-anchor="end" font-weight="normal" font-style="italic" fill="#222" >Parvimonas</text>
<text x="317.20" y="228.05" font-size="6.2" text-anchor="end" font-weight="normal" font-style="italic" fill="#222" >Peptostreptococcus</text>
<text x="317.20" y="236.65" font-size="6.2" text-anchor="end" font-weight="normal" font-style="italic" fill="#222" >Gemella</text>
<text x="317.20" y="245.25" font-size="6.2" text-anchor="end" font-weight="normal" font-style="italic" fill="#222" >Solobacterium</text>
<text x="317.20" y="253.85" font-size="6.2" text-anchor="end" font-weight="normal" font-style="italic" fill="#222" >Porphyromonas</text>
<text x="317.20" y="262.45" font-size="6.2" text-anchor="end" font-weight="normal" font-style="italic" fill="#222" >Mogibacterium</text>
<text x="317.20" y="271.05" font-size="6.2" text-anchor="end" font-weight="normal" font-style="italic" fill="#222" >Granulicatella</text>
<text x="317.20" y="279.65" font-size="6.2" text-anchor="end" font-weight="normal" font-style="italic" fill="#222" >Parabacteroides</text>
<text x="317.20" y="288.25" font-size="6.2" text-anchor="end" font-weight="normal" font-style="italic" fill="#222" >Atopobium</text>
<text x="317.20" y="296.85" font-size="6.2" text-anchor="end" font-weight="normal" font-style="italic" fill="#222" >Campylobacter</text>
<text x="317.20" y="305.45" font-size="6.2" text-anchor="end" font-weight="normal" font-style="italic" fill="#222" >Alloprevotella</text>
<text x="317.20" y="314.05" font-size="6.2" text-anchor="end" font-weight="normal" font-style="italic" fill="#222" >Bilophila</text>
<text x="317.20" y="322.65" font-size="6.2" text-anchor="end" font-weight="normal" font-style="italic" fill="#222" >Morganella</text>
<text x="317.20" y="331.25" font-size="6.2" text-anchor="end" font-weight="normal" font-style="italic" fill="#222" >Sutterella</text>
<text x="317.20" y="339.85" font-size="6.2" text-anchor="end" font-weight="normal" font-style="italic" fill="#222" >Allisonella</text>
<text x="317.20" y="348.45" font-size="6.2" text-anchor="end" font-weight="normal" font-style="italic" fill="#222" >Dorea</text>
<text x="317.20" y="357.05" font-size="6.2" text-anchor="end" font-weight="normal" font-style="italic" fill="#222" >Enterobacter</text>
<text x="317.20" y="365.65" font-size="6.2" text-anchor="end" font-weight="normal" font-style="italic" fill="#222" >Bifidobacterium</text>
<text x="317.20" y="374.25" font-size="6.2" text-anchor="end" font-weight="normal" font-style="italic" fill="#222" >Roseburia</text>
<text x="348.50" y="384.40" font-size="6.2" text-anchor="middle" font-weight="normal" font-style="normal" fill="#222" >−0.5</text>
<text x="398.50" y="384.40" font-size="6.2" text-anchor="middle" font-weight="normal" font-style="normal" fill="#222" >0.0</text>
<text x="448.50" y="384.40" font-size="6.2" text-anchor="middle" font-weight="normal" font-style="normal" fill="#222" >0.5</text>
<text x="498.50" y="384.40" font-size="6.2" text-anchor="middle" font-weight="normal" font-style="normal" fill="#222" >1.0</text>
<text x="419.20" y="393.00" font-size="7.3" text-anchor="middle" font-weight="normal" font-style="normal" fill="#111" >Effect size</text>
<rect x="318.5" y="209.00" width="58.60" height="16.20" fill="#fff"/>
<rect x="318.5" y="225.15" width="82.30" height="10.40" fill="#fff"/>
<rect x="318.5" y="235.50" width="43.30" height="10.40" fill="#fff"/>
<rect x="318.5" y="245.85" width="43.30" height="10.40" fill="#fff"/>
<rect x="318.5" y="256.20" width="38.30" height="10.40" fill="#fff"/>
<rect x="318.5" y="266.55" width="33.30" height="10.40" fill="#fff"/>
<rect x="318.5" y="276.90" width="34.30" height="10.40" fill="#fff"/>
<rect x="318.5" y="287.25" width="44.30" height="10.40" fill="#fff"/>
<rect x="318.5" y="297.60" width="31.30" height="10.40" fill="#fff"/>
<rect x="318.5" y="307.95" width="22.80" height="10.40" fill="#fff"/>
<rect x="318.5" y="318.30" width="34.30" height="10.40" fill="#fff"/>
<line x1="455.00" x2="469.50" y1="217.55" y2="217.55" stroke="#222" stroke-width="0.75"/>
<rect x="508.85" y="215.90" width="3.30" height="3.30" fill="#959595"/>
<path d="M463.05,216.10h2.90v2.90h-2.90zM463.05,217.55h2.90M464.50,216.10v2.90" fill="#b0b0b0" stroke="#5a5a5a" stroke-width="0.62"/>
<path d="M481.60,217.55h3.80M483.50,215.65v3.80M482.13,216.18l2.74,2.74M484.87,216.18l-2.74,2.74" fill="none" stroke="#4f4f4f" stroke-width="0.62"/>
<path d="M465.30,217.55h4.40M467.50,215.35v4.40" fill="none" stroke="#4f4f4f" stroke-width="0.62"/>
<path d="M450.50,216.05l3.00,3.00M453.50,216.05l-3.00,3.00" fill="none" stroke="#5a5a5a" stroke-width="0.62"/>
<polygon points="449.00,215.61 450.85,218.94 447.15,218.94" fill="none" stroke="#6a6a6a" stroke-width="0.62"/>
<rect x="443.45" y="216.00" width="3.10" height="3.10" fill="#fff" fill-opacity="0.55" stroke="#4a4a4a" stroke-width="0.62"/>
<path d="M452.00,215.65h3.00l-3.00,3.80h3.00l-3.00,-3.80M452.00,215.65v3.80M455.00,215.65v3.80" fill="none" stroke="#3c3c3c" stroke-width="0.62" stroke-opacity="0.9"/>
<circle cx="472.50" cy="217.55" r="1.60" fill="#fff" fill-opacity="0.55" stroke="#4a4a4a" stroke-width="0.62"/>
<polygon points="454.00,215.60 455.95,217.55 454.00,219.50 452.05,217.55" fill="#1a5c49" stroke="#7f9890" stroke-width="0.5"/>
<circle cx="464.00" cy="217.55" r="1.85" fill="#000"/>
<line x1="454.50" x2="472.50" y1="226.15" y2="226.15" stroke="#222" stroke-width="0.75"/>
<rect x="439.85" y="224.50" width="3.30" height="3.30" fill="#959595"/>
<path d="M477.05,224.70h2.90v2.90h-2.90zM477.05,226.15h2.90M478.50,224.70v2.90" fill="#b0b0b0" stroke="#5a5a5a" stroke-width="0.62"/>
<path d="M477.60,226.15h3.80M479.50,224.25v3.80M478.13,224.78l2.74,2.74M480.87,224.78l-2.74,2.74" fill="none" stroke="#4f4f4f" stroke-width="0.62"/>
<path d="M462.30,226.15h4.40M464.50,223.95v4.40" fill="none" stroke="#4f4f4f" stroke-width="0.62"/>
<path d="M473.00,224.65l3.00,3.00M476.00,224.65l-3.00,3.00" fill="none" stroke="#5a5a5a" stroke-width="0.62"/>
<polygon points="428.50,224.21 430.35,227.54 426.65,227.54" fill="none" stroke="#6a6a6a" stroke-width="0.62"/>
<rect x="456.95" y="224.60" width="3.10" height="3.10" fill="#fff" fill-opacity="0.55" stroke="#4a4a4a" stroke-width="0.62"/>
<path d="M453.00,224.25h3.00l-3.00,3.80h3.00l-3.00,-3.80M453.00,224.25v3.80M456.00,224.25v3.80" fill="none" stroke="#3c3c3c" stroke-width="0.62" stroke-opacity="0.9"/>
<circle cx="453.50" cy="226.15" r="1.60" fill="#fff" fill-opacity="0.55" stroke="#4a4a4a" stroke-width="0.62"/>
<polygon points="456.00,224.20 457.95,226.15 456.00,228.10 454.05,226.15" fill="#1a5c49" stroke="#7f9890" stroke-width="0.5"/>
<circle cx="460.50" cy="226.15" r="1.85" fill="#000"/>
<line x1="440.50" x2="458.50" y1="234.75" y2="234.75" stroke="#222" stroke-width="0.75"/>
<rect x="458.35" y="233.10" width="3.30" height="3.30" fill="#959595"/>
<path d="M441.05,233.30h2.90v2.90h-2.90zM441.05,234.75h2.90M442.50,233.30v2.90" fill="#b0b0b0" stroke="#5a5a5a" stroke-width="0.62"/>
<path d="M442.60,234.75h3.80M444.50,232.85v3.80M443.13,233.38l2.74,2.74M445.87,233.38l-2.74,2.74" fill="none" stroke="#4f4f4f" stroke-width="0.62"/>
<path d="M444.30,234.75h4.40M446.50,232.55v4.40" fill="none" stroke="#4f4f4f" stroke-width="0.62"/>
<path d="M439.00,233.25l3.00,3.00M442.00,233.25l-3.00,3.00" fill="none" stroke="#5a5a5a" stroke-width="0.62"/>
<polygon points="445.50,232.81 447.35,236.14 443.65,236.14" fill="none" stroke="#6a6a6a" stroke-width="0.62"/>
<rect x="436.95" y="233.20" width="3.10" height="3.10" fill="#fff" fill-opacity="0.55" stroke="#4a4a4a" stroke-width="0.62"/>
<path d="M436.00,232.85h3.00l-3.00,3.80h3.00l-3.00,-3.80M436.00,232.85v3.80M439.00,232.85v3.80" fill="none" stroke="#3c3c3c" stroke-width="0.62" stroke-opacity="0.9"/>
<circle cx="467.10" cy="234.75" r="1.60" fill="#fff" fill-opacity="0.55" stroke="#4a4a4a" stroke-width="0.62"/>
<polygon points="455.50,232.80 457.45,234.75 455.50,236.70 453.55,234.75" fill="#1a5c49" stroke="#7f9890" stroke-width="0.5"/>
<circle cx="449.20" cy="234.75" r="1.85" fill="#000"/>
<line x1="432.50" x2="451.50" y1="243.35" y2="243.35" stroke="#222" stroke-width="0.75"/>
<rect x="457.55" y="241.70" width="3.30" height="3.30" fill="#959595"/>
<path d="M433.05,241.90h2.90v2.90h-2.90zM433.05,243.35h2.90M434.50,241.90v2.90" fill="#b0b0b0" stroke="#5a5a5a" stroke-width="0.62"/>
<path d="M431.60,243.35h3.80M433.50,241.45v3.80M432.13,241.98l2.74,2.74M434.87,241.98l-2.74,2.74" fill="none" stroke="#4f4f4f" stroke-width="0.62"/>
<path d="M445.30,243.35h4.40M447.50,241.15v4.40" fill="none" stroke="#4f4f4f" stroke-width="0.62"/>
<path d="M444.00,241.85l3.00,3.00M447.00,241.85l-3.00,3.00" fill="none" stroke="#5a5a5a" stroke-width="0.62"/>
<polygon points="437.00,241.41 438.85,244.74 435.15,244.74" fill="none" stroke="#6a6a6a" stroke-width="0.62"/>
<rect x="454.45" y="241.80" width="3.10" height="3.10" fill="#fff" fill-opacity="0.55" stroke="#4a4a4a" stroke-width="0.62"/>
<path d="M439.00,241.45h3.00l-3.00,3.80h3.00l-3.00,-3.80M439.00,241.45v3.80M442.00,241.45v3.80" fill="none" stroke="#3c3c3c" stroke-width="0.62" stroke-opacity="0.9"/>
<circle cx="452.00" cy="243.35" r="1.60" fill="#fff" fill-opacity="0.55" stroke="#4a4a4a" stroke-width="0.62"/>
<polygon points="431.50,241.40 433.45,243.35 431.50,245.30 429.55,243.35" fill="#1a5c49" stroke="#7f9890" stroke-width="0.5"/>
<circle cx="441.50" cy="243.35" r="1.85" fill="#000"/>
<line x1="431.50" x2="447.50" y1="251.95" y2="251.95" stroke="#222" stroke-width="0.75"/>
<rect x="427.85" y="250.30" width="3.30" height="3.30" fill="#959595"/>
<path d="M464.05,250.50h2.90v2.90h-2.90zM464.05,251.95h2.90M465.50,250.50v2.90" fill="#b0b0b0" stroke="#5a5a5a" stroke-width="0.62"/>
<path d="M461.60,251.95h3.80M463.50,250.05v3.80M462.13,250.58l2.74,2.74M464.87,250.58l-2.74,2.74" fill="none" stroke="#4f4f4f" stroke-width="0.62"/>
<path d="M455.30,251.95h4.40M457.50,249.75v4.40" fill="none" stroke="#4f4f4f" stroke-width="0.62"/>
<path d="M430.00,250.45l3.00,3.00M433.00,250.45l-3.00,3.00" fill="none" stroke="#5a5a5a" stroke-width="0.62"/>
<polygon points="444.50,250.01 446.35,253.34 442.65,253.34" fill="none" stroke="#6a6a6a" stroke-width="0.62"/>
<rect x="440.95" y="250.40" width="3.10" height="3.10" fill="#fff" fill-opacity="0.55" stroke="#4a4a4a" stroke-width="0.62"/>
<path d="M420.50,250.05h3.00l-3.00,3.80h3.00l-3.00,-3.80M420.50,250.05v3.80M423.50,250.05v3.80" fill="none" stroke="#3c3c3c" stroke-width="0.62" stroke-opacity="0.9"/>
<circle cx="448.50" cy="251.95" r="1.60" fill="#fff" fill-opacity="0.55" stroke="#4a4a4a" stroke-width="0.62"/>
<polygon points="438.50,250.00 440.45,251.95 438.50,253.90 436.55,251.95" fill="#1a5c49" stroke="#7f9890" stroke-width="0.5"/>
<circle cx="440.50" cy="251.95" r="1.85" fill="#000"/>
<line x1="417.50" x2="432.50" y1="260.55" y2="260.55" stroke="#222" stroke-width="0.75"/>
<rect x="468.35" y="258.90" width="3.30" height="3.30" fill="#959595"/>
<path d="M422.05,259.10h2.90v2.90h-2.90zM422.05,260.55h2.90M423.50,259.10v2.90" fill="#b0b0b0" stroke="#5a5a5a" stroke-width="0.62"/>
<path d="M406.10,260.55h3.80M408.00,258.65v3.80M406.63,259.18l2.74,2.74M409.37,259.18l-2.74,2.74" fill="none" stroke="#4f4f4f" stroke-width="0.62"/>
<path d="M414.30,260.55h4.40M416.50,258.35v4.40" fill="none" stroke="#4f4f4f" stroke-width="0.62"/>
<path d="M421.00,259.05l3.00,3.00M424.00,259.05l-3.00,3.00" fill="none" stroke="#5a5a5a" stroke-width="0.62"/>
<polygon points="434.50,258.61 436.35,261.94 432.65,261.94" fill="none" stroke="#6a6a6a" stroke-width="0.62"/>
<rect x="427.95" y="259.00" width="3.10" height="3.10" fill="#fff" fill-opacity="0.55" stroke="#4a4a4a" stroke-width="0.62"/>
<path d="M440.00,258.65h3.00l-3.00,3.80h3.00l-3.00,-3.80M440.00,258.65v3.80M443.00,258.65v3.80" fill="none" stroke="#3c3c3c" stroke-width="0.62" stroke-opacity="0.9"/>
<circle cx="448.50" cy="260.55" r="1.60" fill="#fff" fill-opacity="0.55" stroke="#4a4a4a" stroke-width="0.62"/>
<polygon points="427.50,258.60 429.45,260.55 427.50,262.50 425.55,260.55" fill="#1a5c49" stroke="#7f9890" stroke-width="0.5"/>
<circle cx="425.00" cy="260.55" r="1.85" fill="#000"/>
<line x1="416.50" x2="437.50" y1="269.15" y2="269.15" stroke="#222" stroke-width="0.75"/>
<rect x="422.85" y="267.50" width="3.30" height="3.30" fill="#959595"/>
<path d="M395.55,267.70h2.90v2.90h-2.90zM395.55,269.15h2.90M397.00,267.70v2.90" fill="#b0b0b0" stroke="#5a5a5a" stroke-width="0.62"/>
<path d="M431.60,269.15h3.80M433.50,267.25v3.80M432.13,267.78l2.74,2.74M434.87,267.78l-2.74,2.74" fill="none" stroke="#4f4f4f" stroke-width="0.62"/>
<path d="M412.80,269.15h4.40M415.00,266.95v4.40" fill="none" stroke="#4f4f4f" stroke-width="0.62"/>
<path d="M400.00,267.65l3.00,3.00M403.00,267.65l-3.00,3.00" fill="none" stroke="#5a5a5a" stroke-width="0.62"/>
<polygon points="431.50,267.21 433.35,270.54 429.65,270.54" fill="none" stroke="#6a6a6a" stroke-width="0.62"/>
<rect x="427.95" y="267.60" width="3.10" height="3.10" fill="#fff" fill-opacity="0.55" stroke="#4a4a4a" stroke-width="0.62"/>
<path d="M427.00,267.25h3.00l-3.00,3.80h3.00l-3.00,-3.80M427.00,267.25v3.80M430.00,267.25v3.80" fill="none" stroke="#3c3c3c" stroke-width="0.62" stroke-opacity="0.9"/>
<circle cx="434.50" cy="269.15" r="1.60" fill="#fff" fill-opacity="0.55" stroke="#4a4a4a" stroke-width="0.62"/>
<polygon points="438.50,267.20 440.45,269.15 438.50,271.10 436.55,269.15" fill="#1a5c49" stroke="#7f9890" stroke-width="0.5"/>
<circle cx="427.50" cy="269.15" r="1.85" fill="#000"/>
<line x1="411.50" x2="435.50" y1="277.75" y2="277.75" stroke="#222" stroke-width="0.75"/>
<rect x="418.85" y="276.10" width="3.30" height="3.30" fill="#959595"/>
<path d="M505.05,276.30h2.90v2.90h-2.90zM505.05,277.75h2.90M506.50,276.30v2.90" fill="#b0b0b0" stroke="#5a5a5a" stroke-width="0.62"/>
<path d="M449.60,277.75h3.80M451.50,275.85v3.80M450.13,276.38l2.74,2.74M452.87,276.38l-2.74,2.74" fill="none" stroke="#4f4f4f" stroke-width="0.62"/>
<path d="M439.30,277.75h4.40M441.50,275.55v4.40" fill="none" stroke="#4f4f4f" stroke-width="0.62"/>
<path d="M402.00,276.25l3.00,3.00M405.00,276.25l-3.00,3.00" fill="none" stroke="#5a5a5a" stroke-width="0.62"/>
<polygon points="404.50,275.81 406.35,279.14 402.65,279.14" fill="none" stroke="#6a6a6a" stroke-width="0.62"/>
<rect x="409.95" y="276.20" width="3.10" height="3.10" fill="#fff" fill-opacity="0.55" stroke="#4a4a4a" stroke-width="0.62"/>
<path d="M398.50,275.85h3.00l-3.00,3.80h3.00l-3.00,-3.80M398.50,275.85v3.80M401.50,275.85v3.80" fill="none" stroke="#3c3c3c" stroke-width="0.62" stroke-opacity="0.9"/>
<circle cx="408.00" cy="277.75" r="1.60" fill="#fff" fill-opacity="0.55" stroke="#4a4a4a" stroke-width="0.62"/>
<polygon points="418.50,275.80 420.45,277.75 418.50,279.70 416.55,277.75" fill="#1a5c49" stroke="#7f9890" stroke-width="0.5"/>
<circle cx="422.00" cy="277.75" r="1.85" fill="#000"/>
<line x1="413.50" x2="431.50" y1="286.35" y2="286.35" stroke="#222" stroke-width="0.75"/>
<rect x="454.85" y="284.70" width="3.30" height="3.30" fill="#959595"/>
<path d="M433.05,284.90h2.90v2.90h-2.90zM433.05,286.35h2.90M434.50,284.90v2.90" fill="#b0b0b0" stroke="#5a5a5a" stroke-width="0.62"/>
<path d="M428.60,286.35h3.80M430.50,284.45v3.80M429.13,284.98l2.74,2.74M431.87,284.98l-2.74,2.74" fill="none" stroke="#4f4f4f" stroke-width="0.62"/>
<path d="M431.30,286.35h4.40M433.50,284.15v4.40" fill="none" stroke="#4f4f4f" stroke-width="0.62"/>
<path d="M437.00,284.85l3.00,3.00M440.00,284.85l-3.00,3.00" fill="none" stroke="#5a5a5a" stroke-width="0.62"/>
<polygon points="426.50,284.41 428.35,287.74 424.65,287.74" fill="none" stroke="#6a6a6a" stroke-width="0.62"/>
<rect x="414.45" y="284.80" width="3.10" height="3.10" fill="#fff" fill-opacity="0.55" stroke="#4a4a4a" stroke-width="0.62"/>
<path d="M414.00,284.45h3.00l-3.00,3.80h3.00l-3.00,-3.80M414.00,284.45v3.80M417.00,284.45v3.80" fill="none" stroke="#3c3c3c" stroke-width="0.62" stroke-opacity="0.9"/>
<circle cx="448.50" cy="286.35" r="1.60" fill="#fff" fill-opacity="0.55" stroke="#4a4a4a" stroke-width="0.62"/>
<polygon points="408.50,284.40 410.45,286.35 408.50,288.30 406.55,286.35" fill="#1a5c49" stroke="#7f9890" stroke-width="0.5"/>
<circle cx="421.50" cy="286.35" r="1.85" fill="#000"/>
<line x1="408.50" x2="431.50" y1="294.95" y2="294.95" stroke="#222" stroke-width="0.75"/>
<rect x="401.85" y="293.30" width="3.30" height="3.30" fill="#959595"/>
<rect x="438.35" y="293.30" width="3.30" height="3.30" fill="#959595"/>
<path d="M430.05,293.50h2.90v2.90h-2.90zM430.05,294.95h2.90M431.50,293.50v2.90" fill="#b0b0b0" stroke="#5a5a5a" stroke-width="0.62"/>
<path d="M424.60,294.95h3.80M426.50,293.05v3.80M425.13,293.58l2.74,2.74M427.87,293.58l-2.74,2.74" fill="none" stroke="#4f4f4f" stroke-width="0.62"/>
<path d="M428.30,294.95h4.40M430.50,292.75v4.40" fill="none" stroke="#4f4f4f" stroke-width="0.62"/>
<path d="M428.00,293.45l3.00,3.00M431.00,293.45l-3.00,3.00" fill="none" stroke="#5a5a5a" stroke-width="0.62"/>
<polygon points="432.50,293.01 434.35,296.34 430.65,296.34" fill="none" stroke="#6a6a6a" stroke-width="0.62"/>
<rect x="389.45" y="293.40" width="3.10" height="3.10" fill="#fff" fill-opacity="0.55" stroke="#4a4a4a" stroke-width="0.62"/>
<path d="M390.00,293.05h3.00l-3.00,3.80h3.00l-3.00,-3.80M390.00,293.05v3.80M393.00,293.05v3.80" fill="none" stroke="#3c3c3c" stroke-width="0.62" stroke-opacity="0.9"/>
<circle cx="434.00" cy="294.95" r="1.60" fill="#fff" fill-opacity="0.55" stroke="#4a4a4a" stroke-width="0.62"/>
<polygon points="428.50,293.00 430.45,294.95 428.50,296.90 426.55,294.95" fill="#1a5c49" stroke="#7f9890" stroke-width="0.5"/>
<circle cx="421.50" cy="294.95" r="1.85" fill="#000"/>
<line x1="408.50" x2="431.50" y1="303.55" y2="303.55" stroke="#222" stroke-width="0.75"/>
<rect x="427.85" y="301.90" width="3.30" height="3.30" fill="#959595"/>
<path d="M429.05,302.10h2.90v2.90h-2.90zM429.05,303.55h2.90M430.50,302.10v2.90" fill="#b0b0b0" stroke="#5a5a5a" stroke-width="0.62"/>
<path d="M416.60,303.55h3.80M418.50,301.65v3.80M417.13,302.18l2.74,2.74M419.87,302.18l-2.74,2.74" fill="none" stroke="#4f4f4f" stroke-width="0.62"/>
<path d="M424.30,303.55h4.40M426.50,301.35v4.40" fill="none" stroke="#4f4f4f" stroke-width="0.62"/>
<path d="M427.00,302.05l3.00,3.00M430.00,302.05l-3.00,3.00" fill="none" stroke="#5a5a5a" stroke-width="0.62"/>
<polygon points="427.50,301.61 429.35,304.94 425.65,304.94" fill="none" stroke="#6a6a6a" stroke-width="0.62"/>
<rect x="418.95" y="302.00" width="3.10" height="3.10" fill="#fff" fill-opacity="0.55" stroke="#4a4a4a" stroke-width="0.62"/>
<path d="M422.00,301.65h3.00l-3.00,3.80h3.00l-3.00,-3.80M422.00,301.65v3.80M425.00,301.65v3.80" fill="none" stroke="#3c3c3c" stroke-width="0.62" stroke-opacity="0.9"/>
<circle cx="425.50" cy="303.55" r="1.60" fill="#fff" fill-opacity="0.55" stroke="#4a4a4a" stroke-width="0.62"/>
<polygon points="404.50,301.60 406.45,303.55 404.50,305.50 402.55,303.55" fill="#1a5c49" stroke="#7f9890" stroke-width="0.5"/>
<circle cx="422.50" cy="303.55" r="1.85" fill="#000"/>
<line x1="407.50" x2="431.50" y1="312.15" y2="312.15" stroke="#222" stroke-width="0.75"/>
<rect x="426.85" y="310.50" width="3.30" height="3.30" fill="#959595"/>
<path d="M439.05,310.70h2.90v2.90h-2.90zM439.05,312.15h2.90M440.50,310.70v2.90" fill="#b0b0b0" stroke="#5a5a5a" stroke-width="0.62"/>
<path d="M439.60,312.15h3.80M441.50,310.25v3.80M440.13,310.78l2.74,2.74M442.87,310.78l-2.74,2.74" fill="none" stroke="#4f4f4f" stroke-width="0.62"/>
<path d="M450.30,312.15h4.40M452.50,309.95v4.40" fill="none" stroke="#4f4f4f" stroke-width="0.62"/>
<path d="M413.00,310.65l3.00,3.00M416.00,310.65l-3.00,3.00" fill="none" stroke="#5a5a5a" stroke-width="0.62"/>
<polygon points="419.50,310.21 421.35,313.54 417.65,313.54" fill="none" stroke="#6a6a6a" stroke-width="0.62"/>
<rect x="406.95" y="310.60" width="3.10" height="3.10" fill="#fff" fill-opacity="0.55" stroke="#4a4a4a" stroke-width="0.62"/>
<path d="M406.50,310.25h3.00l-3.00,3.80h3.00l-3.00,-3.80M406.50,310.25v3.80M409.50,310.25v3.80" fill="none" stroke="#3c3c3c" stroke-width="0.62" stroke-opacity="0.9"/>
<circle cx="413.00" cy="312.15" r="1.60" fill="#fff" fill-opacity="0.55" stroke="#4a4a4a" stroke-width="0.62"/>
<circle cx="423.50" cy="312.15" r="1.60" fill="#fff" fill-opacity="0.55" stroke="#4a4a4a" stroke-width="0.62"/>
<polygon points="401.50,310.20 403.45,312.15 401.50,314.10 399.55,312.15" fill="#1a5c49" stroke="#7f9890" stroke-width="0.5"/>
<circle cx="418.00" cy="312.15" r="1.85" fill="#000"/>
<line x1="405.00" x2="425.50" y1="320.75" y2="320.75" stroke="#222" stroke-width="0.75"/>
<rect x="455.35" y="319.10" width="3.30" height="3.30" fill="#959595"/>
<path d="M417.05,319.30h2.90v2.90h-2.90zM417.05,320.75h2.90M418.50,319.30v2.90" fill="#b0b0b0" stroke="#5a5a5a" stroke-width="0.62"/>
<path d="M416.60,320.75h3.80M418.50,318.85v3.80M417.13,319.38l2.74,2.74M419.87,319.38l-2.74,2.74" fill="none" stroke="#4f4f4f" stroke-width="0.62"/>
<path d="M426.30,320.75h4.40M428.50,318.55v4.40" fill="none" stroke="#4f4f4f" stroke-width="0.62"/>
<path d="M423.50,319.25l3.00,3.00M426.50,319.25l-3.00,3.00" fill="none" stroke="#5a5a5a" stroke-width="0.62"/>
<polygon points="435.50,318.81 437.35,322.14 433.65,322.14" fill="none" stroke="#6a6a6a" stroke-width="0.62"/>
<rect x="390.95" y="319.20" width="3.10" height="3.10" fill="#fff" fill-opacity="0.55" stroke="#4a4a4a" stroke-width="0.62"/>
<path d="M403.50,318.85h3.00l-3.00,3.80h3.00l-3.00,-3.80M403.50,318.85v3.80M406.50,318.85v3.80" fill="none" stroke="#3c3c3c" stroke-width="0.62" stroke-opacity="0.9"/>
<circle cx="408.50" cy="320.75" r="1.60" fill="#fff" fill-opacity="0.55" stroke="#4a4a4a" stroke-width="0.62"/>
<polygon points="410.50,318.80 412.45,320.75 410.50,322.70 408.55,320.75" fill="#1a5c49" stroke="#7f9890" stroke-width="0.5"/>
<circle cx="413.50" cy="320.75" r="1.85" fill="#000"/>
<line x1="405.50" x2="424.50" y1="329.35" y2="329.35" stroke="#222" stroke-width="0.75"/>
<rect x="378.85" y="327.70" width="3.30" height="3.30" fill="#959595"/>
<path d="M440.55,327.90h2.90v2.90h-2.90zM440.55,329.35h2.90M442.00,327.90v2.90" fill="#b0b0b0" stroke="#5a5a5a" stroke-width="0.62"/>
<path d="M404.60,329.35h3.80M406.50,327.45v3.80M405.13,327.98l2.74,2.74M407.87,327.98l-2.74,2.74" fill="none" stroke="#4f4f4f" stroke-width="0.62"/>
<path d="M392.30,329.35h4.40M394.50,327.15v4.40" fill="none" stroke="#4f4f4f" stroke-width="0.62"/>
<path d="M400.00,327.85l3.00,3.00M403.00,327.85l-3.00,3.00" fill="none" stroke="#5a5a5a" stroke-width="0.62"/>
<polygon points="417.50,327.41 419.35,330.74 415.65,330.74" fill="none" stroke="#6a6a6a" stroke-width="0.62"/>
<rect x="418.95" y="327.80" width="3.10" height="3.10" fill="#fff" fill-opacity="0.55" stroke="#4a4a4a" stroke-width="0.62"/>
<path d="M418.50,327.45h3.00l-3.00,3.80h3.00l-3.00,-3.80M418.50,327.45v3.80M421.50,327.45v3.80" fill="none" stroke="#3c3c3c" stroke-width="0.62" stroke-opacity="0.9"/>
<circle cx="427.50" cy="329.35" r="1.60" fill="#fff" fill-opacity="0.55" stroke="#4a4a4a" stroke-width="0.62"/>
<circle cx="423.50" cy="329.35" r="1.60" fill="#fff" fill-opacity="0.55" stroke="#4a4a4a" stroke-width="0.62"/>
<polygon points="408.50,327.40 410.45,329.35 408.50,331.30 406.55,329.35" fill="#1a5c49" stroke="#7f9890" stroke-width="0.5"/>
<circle cx="413.50" cy="329.35" r="1.85" fill="#000"/>
<line x1="404.50" x2="423.50" y1="337.95" y2="337.95" stroke="#222" stroke-width="0.75"/>
<rect x="428.35" y="336.30" width="3.30" height="3.30" fill="#959595"/>
<rect x="466.35" y="336.30" width="3.30" height="3.30" fill="#959595"/>
<path d="M430.05,336.50h2.90v2.90h-2.90zM430.05,337.95h2.90M431.50,336.50v2.90" fill="#b0b0b0" stroke="#5a5a5a" stroke-width="0.62"/>
<path d="M415.60,337.95h3.80M417.50,336.05v3.80M416.13,336.58l2.74,2.74M418.87,336.58l-2.74,2.74" fill="none" stroke="#4f4f4f" stroke-width="0.62"/>
<path d="M416.30,337.95h4.40M418.50,335.75v4.40" fill="none" stroke="#4f4f4f" stroke-width="0.62"/>
<path d="M395.00,336.45l3.00,3.00M398.00,336.45l-3.00,3.00" fill="none" stroke="#5a5a5a" stroke-width="0.62"/>
<polygon points="375.50,336.01 377.35,339.34 373.65,339.34" fill="none" stroke="#6a6a6a" stroke-width="0.62"/>
<rect x="403.45" y="336.40" width="3.10" height="3.10" fill="#fff" fill-opacity="0.55" stroke="#4a4a4a" stroke-width="0.62"/>
<path d="M403.50,336.05h3.00l-3.00,3.80h3.00l-3.00,-3.80M403.50,336.05v3.80M406.50,336.05v3.80" fill="none" stroke="#3c3c3c" stroke-width="0.62" stroke-opacity="0.9"/>
<circle cx="405.50" cy="337.95" r="1.60" fill="#fff" fill-opacity="0.55" stroke="#4a4a4a" stroke-width="0.62"/>
<polygon points="410.50,336.00 412.45,337.95 410.50,339.90 408.55,337.95" fill="#1a5c49" stroke="#7f9890" stroke-width="0.5"/>
<circle cx="413.50" cy="337.95" r="1.85" fill="#000"/>
<line x1="401.50" x2="424.50" y1="346.55" y2="346.55" stroke="#222" stroke-width="0.75"/>
<rect x="420.85" y="344.90" width="3.30" height="3.30" fill="#959595"/>
<path d="M378.05,345.10h2.90v2.90h-2.90zM378.05,346.55h2.90M379.50,345.10v2.90" fill="#b0b0b0" stroke="#5a5a5a" stroke-width="0.62"/>
<path d="M393.10,346.55h3.80M395.00,344.65v3.80M393.63,345.18l2.74,2.74M396.37,345.18l-2.74,2.74" fill="none" stroke="#4f4f4f" stroke-width="0.62"/>
<path d="M412.30,346.55h4.40M414.50,344.35v4.40" fill="none" stroke="#4f4f4f" stroke-width="0.62"/>
<path d="M410.00,345.05l3.00,3.00M413.00,345.05l-3.00,3.00" fill="none" stroke="#5a5a5a" stroke-width="0.62"/>
<polygon points="428.00,344.61 429.85,347.94 426.15,347.94" fill="none" stroke="#6a6a6a" stroke-width="0.62"/>
<rect x="421.95" y="345.00" width="3.10" height="3.10" fill="#fff" fill-opacity="0.55" stroke="#4a4a4a" stroke-width="0.62"/>
<path d="M418.00,344.65h3.00l-3.00,3.80h3.00l-3.00,-3.80M418.00,344.65v3.80M421.00,344.65v3.80" fill="none" stroke="#3c3c3c" stroke-width="0.62" stroke-opacity="0.9"/>
<circle cx="395.50" cy="346.55" r="1.60" fill="#fff" fill-opacity="0.55" stroke="#4a4a4a" stroke-width="0.62"/>
<circle cx="400.50" cy="346.55" r="1.60" fill="#fff" fill-opacity="0.55" stroke="#4a4a4a" stroke-width="0.62"/>
<polygon points="417.50,344.60 419.45,346.55 417.50,348.50 415.55,346.55" fill="#1a5c49" stroke="#7f9890" stroke-width="0.5"/>
<polygon points="422.50,344.60 424.45,346.55 422.50,348.50 420.55,346.55" fill="#1a5c49" stroke="#7f9890" stroke-width="0.5"/>
<circle cx="413.00" cy="346.55" r="1.85" fill="#000"/>
<line x1="404.50" x2="416.50" y1="355.15" y2="355.15" stroke="#222" stroke-width="0.75"/>
<rect x="435.35" y="353.50" width="3.30" height="3.30" fill="#959595"/>
<path d="M440.05,353.70h2.90v2.90h-2.90zM440.05,355.15h2.90M441.50,353.70v2.90" fill="#b0b0b0" stroke="#5a5a5a" stroke-width="0.62"/>
<path d="M418.10,355.15h3.80M420.00,353.25v3.80M418.63,353.78l2.74,2.74M421.37,353.78l-2.74,2.74" fill="none" stroke="#4f4f4f" stroke-width="0.62"/>
<path d="M414.30,355.15h4.40M416.50,352.95v4.40" fill="none" stroke="#4f4f4f" stroke-width="0.62"/>
<path d="M385.00,353.65l3.00,3.00M388.00,353.65l-3.00,3.00" fill="none" stroke="#5a5a5a" stroke-width="0.62"/>
<polygon points="411.50,353.21 413.35,356.54 409.65,356.54" fill="none" stroke="#6a6a6a" stroke-width="0.62"/>
<rect x="404.95" y="353.60" width="3.10" height="3.10" fill="#fff" fill-opacity="0.55" stroke="#4a4a4a" stroke-width="0.62"/>
<path d="M409.00,353.25h3.00l-3.00,3.80h3.00l-3.00,-3.80M409.00,353.25v3.80M412.00,353.25v3.80" fill="none" stroke="#3c3c3c" stroke-width="0.62" stroke-opacity="0.9"/>
<circle cx="408.50" cy="355.15" r="1.60" fill="#fff" fill-opacity="0.55" stroke="#4a4a4a" stroke-width="0.62"/>
<polygon points="407.50,353.20 409.45,355.15 407.50,357.10 405.55,355.15" fill="#1a5c49" stroke="#7f9890" stroke-width="0.5"/>
<circle cx="410.00" cy="355.15" r="1.85" fill="#000"/>
<line x1="365.50" x2="390.50" y1="363.75" y2="363.75" stroke="#222" stroke-width="0.75"/>
<rect x="388.35" y="362.10" width="3.30" height="3.30" fill="#959595"/>
<path d="M367.05,362.30h2.90v2.90h-2.90zM367.05,363.75h2.90M368.50,362.30v2.90" fill="#b0b0b0" stroke="#5a5a5a" stroke-width="0.62"/>
<path d="M351.60,363.75h3.80M353.50,361.85v3.80M352.13,362.38l2.74,2.74M354.87,362.38l-2.74,2.74" fill="none" stroke="#4f4f4f" stroke-width="0.62"/>
<path d="M339.80,363.75h4.40M342.00,361.55v4.40" fill="none" stroke="#4f4f4f" stroke-width="0.62"/>
<path d="M412.00,362.25l3.00,3.00M415.00,362.25l-3.00,3.00" fill="none" stroke="#5a5a5a" stroke-width="0.62"/>
<polygon points="328.50,361.81 330.35,365.14 326.65,365.14" fill="none" stroke="#6a6a6a" stroke-width="0.62"/>
<rect x="389.45" y="362.20" width="3.10" height="3.10" fill="#fff" fill-opacity="0.55" stroke="#4a4a4a" stroke-width="0.62"/>
<path d="M387.00,361.85h3.00l-3.00,3.80h3.00l-3.00,-3.80M387.00,361.85v3.80M390.00,361.85v3.80" fill="none" stroke="#3c3c3c" stroke-width="0.62" stroke-opacity="0.9"/>
<circle cx="371.50" cy="363.75" r="1.60" fill="#fff" fill-opacity="0.55" stroke="#4a4a4a" stroke-width="0.62"/>
<circle cx="366.50" cy="363.75" r="1.60" fill="#fff" fill-opacity="0.55" stroke="#4a4a4a" stroke-width="0.62"/>
<polygon points="390.50,361.80 392.45,363.75 390.50,365.70 388.55,363.75" fill="#1a5c49" stroke="#7f9890" stroke-width="0.5"/>
<circle cx="378.50" cy="363.75" r="1.85" fill="#000"/>
<line x1="363.80" x2="387.70" y1="372.35" y2="372.35" stroke="#222" stroke-width="0.75"/>
<rect x="389.85" y="370.70" width="3.30" height="3.30" fill="#959595"/>
<path d="M341.55,370.90h2.90v2.90h-2.90zM341.55,372.35h2.90M343.00,370.90v2.90" fill="#b0b0b0" stroke="#5a5a5a" stroke-width="0.62"/>
<path d="M391.10,372.35h3.80M393.00,370.45v3.80M391.63,370.98l2.74,2.74M394.37,370.98l-2.74,2.74" fill="none" stroke="#4f4f4f" stroke-width="0.62"/>
<path d="M380.30,372.35h4.40M382.50,370.15v4.40" fill="none" stroke="#4f4f4f" stroke-width="0.62"/>
<path d="M348.50,370.85l3.00,3.00M351.50,370.85l-3.00,3.00" fill="none" stroke="#5a5a5a" stroke-width="0.62"/>
<polygon points="378.50,370.41 380.35,373.74 376.65,373.74" fill="none" stroke="#6a6a6a" stroke-width="0.62"/>
<rect x="385.95" y="370.80" width="3.10" height="3.10" fill="#fff" fill-opacity="0.55" stroke="#4a4a4a" stroke-width="0.62"/>
<path d="M373.00,370.45h3.00l-3.00,3.80h3.00l-3.00,-3.80M373.00,370.45v3.80M376.00,370.45v3.80" fill="none" stroke="#3c3c3c" stroke-width="0.62" stroke-opacity="0.9"/>
<circle cx="375.00" cy="372.35" r="1.60" fill="#fff" fill-opacity="0.55" stroke="#4a4a4a" stroke-width="0.62"/>
<polygon points="372.00,370.40 373.95,372.35 372.00,374.30 370.05,372.35" fill="#1a5c49" stroke="#7f9890" stroke-width="0.5"/>
<circle cx="371.50" cy="372.35" r="1.85" fill="#000"/>
<circle cx="323.40" cy="220.00" r="1.85" fill="#000"/>
<text x="331.30" y="222.20" font-size="6.25" text-anchor="start" font-weight="normal" font-style="normal" fill="#222" >Random effects</text>
<polygon points="323.40,228.40 325.35,230.35 323.40,232.30 321.45,230.35" fill="#1a5c49" stroke="#7f9890" stroke-width="0.5"/>
<text x="331.30" y="232.55" font-size="6.25" text-anchor="start" font-weight="normal" font-style="normal" fill="#222" >CRC vs. blood−negative</text>
<polygon points="323.40,238.76 325.25,242.09 321.55,242.09" fill="none" stroke="#6a6a6a" stroke-width="0.62"/>
<text x="331.30" y="242.90" font-size="6.25" text-anchor="start" font-weight="normal" font-style="normal" fill="#222" >Thomas_a</text>
<rect x="321.75" y="249.40" width="3.30" height="3.30" fill="#959595"/>
<text x="331.30" y="253.25" font-size="6.25" text-anchor="start" font-weight="normal" font-style="normal" fill="#222" >Thomas_b</text>
<path d="M321.90,259.50h3.00l-3.00,3.80h3.00l-3.00,-3.80M321.90,259.50v3.80M324.90,259.50v3.80" fill="none" stroke="#3c3c3c" stroke-width="0.62" stroke-opacity="0.9"/>
<text x="331.30" y="263.60" font-size="6.25" text-anchor="start" font-weight="normal" font-style="normal" fill="#222" >Yachida</text>
<path d="M321.95,270.30h2.90v2.90h-2.90zM321.95,271.75h2.90M323.40,270.30v2.90" fill="#b0b0b0" stroke="#5a5a5a" stroke-width="0.62"/>
<text x="331.30" y="273.95" font-size="6.25" text-anchor="start" font-weight="normal" font-style="normal" fill="#222" >Gupta</text>
<circle cx="323.40" cy="282.10" r="1.60" fill="#fff" fill-opacity="0.55" stroke="#4a4a4a" stroke-width="0.62"/>
<text x="331.30" y="284.30" font-size="6.25" text-anchor="start" font-weight="normal" font-style="normal" fill="#222" >Wirbel</text>
<rect x="321.85" y="290.90" width="3.10" height="3.10" fill="#fff" fill-opacity="0.55" stroke="#4a4a4a" stroke-width="0.62"/>
<text x="331.30" y="294.65" font-size="6.25" text-anchor="start" font-weight="normal" font-style="normal" fill="#222" >Vogtmann</text>
<path d="M321.50,302.80h3.80M323.40,300.90v3.80M322.03,301.43l2.74,2.74M324.77,301.43l-2.74,2.74" fill="none" stroke="#4f4f4f" stroke-width="0.62"/>
<text x="331.30" y="305.00" font-size="6.25" text-anchor="start" font-weight="normal" font-style="normal" fill="#222" >Feng</text>
<path d="M321.90,311.65l3.00,3.00M324.90,311.65l-3.00,3.00" fill="none" stroke="#5a5a5a" stroke-width="0.62"/>
<text x="331.30" y="315.35" font-size="6.25" text-anchor="start" font-weight="normal" font-style="normal" fill="#222" >Yu</text>
<path d="M321.20,323.50h4.40M323.40,321.30v4.40" fill="none" stroke="#4f4f4f" stroke-width="0.62"/>
<text x="331.30" y="325.70" font-size="6.25" text-anchor="start" font-weight="normal" font-style="normal" fill="#222" >Zeller</text>
</svg>
</body></html>
